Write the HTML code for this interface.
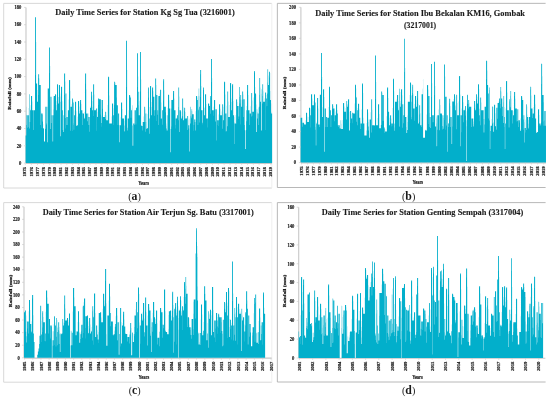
<!DOCTYPE html>
<html lang="en"><head><meta charset="utf-8"><title>Daily Time Series</title>
<style>html,body{margin:0;padding:0;background:#fff}svg{display:block}text{font-family:'Liberation Serif', 'DejaVu Serif', serif}</style></head><body>
<svg width="550" height="401" viewBox="0 0 550 401">
<rect width="550" height="401" fill="#fff"/>
<path d="M271.80 3.40 H3.70 V188.00 H271.80" fill="none" stroke="#d4d4d4" stroke-width="0.9"/>
<path d="M271.80 3.40 V188.00" fill="none" stroke="#ebebeb" stroke-width="0.8"/>
<path d="M26.00 7.40 V163.10 M26.00 163.40 H272.00" stroke="#c8c8c8" stroke-width="1.1" fill="none"/>
<path d="M25.60 163.10V135.4H26.225V106.8H26.35V125H26.6V114.8H26.725V115.2H27.35V127.7H27.6V115.2H28.725V127.1H28.85V107.9H28.975V128.5H29.35V94.3H29.85V122.1H30.1V109.2H30.225V110.2H30.85V105.2H30.975V96.3H31.1V96H32.1V101.6H32.225V110.2H33.1V129.9H33.35V110.2H34.975V75.3H35.1V17.2H35.975V42H36.1V83.4H37.1V90.1H37.225V101.6H37.35V101.8H37.975V95.2H38.1V78H38.225V74.2H39.1V78.6H39.225V85.1H40.725V125H40.975V111.4H41.1V113.5H41.6V127.9H41.725V113.5H42.225V121.6H42.475V113.5H42.85V114.9H42.975V124.1H43.1V128.2H43.6V128.5H43.975V141.5H44.975V128.9H45.225V128.5H45.35V106.8H45.975V125H46.1V106.8H46.475V123.5H46.725V106.8H47.225V142.3H47.725V88.4H48.975V73.1H49.1V47.4H49.975V66H50.1V96.8H50.35V129.1H50.725V96.8H51.475V123H51.725V115.2H52.6V141.5H53.1V115.2H53.475V109.4H53.6V97.4H53.725V96H54.975V95H55.1V94.3H55.975V95.1H56.1V105H56.225V110.2H56.85V101.1H56.975V84.9H57.1V84.2H57.975V84.8H58.1V96.9H58.225V103.5H58.85V97H58.975V85.5H59.1V85.1H59.975V93.6H60.1V101.8H60.35V136.3H60.85V96.5H60.975V87.1H61.1V86.8H62.1V101.2H62.225V110.2H62.85V129.9H63.1V132H63.6V115.2H63.975V95.2H64.1V73.4H65.1V81.4H65.225V93.4H65.6V118H65.85V128.5H65.975V93.4H66.35V125H66.6V116.9H67.6V125H67.85V110.2H68.85V99.6H68.975V80.8H69.1V80.1H70.1V90.8H70.225V106.8H70.475V130.8H70.725V106.8H71.85V103.9H71.975V98.7H72.1V98.5H72.475V131H72.6V98.5H72.975V100.1H73.1V102.6H73.6V123.2H73.725V125H73.85V129.7H74.1V115.2H74.85V110.5H74.975V102.1H75.1V101.8H76.1V111.2H76.225V125.2H76.475V125.9H77.1V125.2H77.85V116.7H77.975V101.6H78.1V101H79.1V106.5H79.225V113.5H79.85V110.9H79.975V102.5H80.1V100.1H81.1V104.1H81.225V110.2H82.35V125H82.6V113H82.725V113.5H83.975V116.7H84.1V118.5H84.85V112H84.975V83.8H85.1V73.4H86.1V89.4H86.225V113.5H86.975V121.2H87.35V113.5H88.225V125H88.475V116.8H88.6V116.9H89.6V131.7H89.85V125H89.975V108.2H90.1V107.7H90.85V106.3H90.975V96.4H91.1V91.8H91.975V95.3H92.1V106.8H92.225V110.2H92.85V101.1H92.975V84.9H93.1V84.2H93.6V116.1H93.725V84.2H94.1V94.6H94.225V110.2H95.85V109.6H95.975V108.5H96.725V130.7H96.85V108.5H97.1V111.8H97.225V116.9H97.85V116.6H97.975V105.1H98.1V98.5H99.1V98.8H99.225V99.3H100.85V114.4H100.975V126.7H101.1V100.1H101.35V123H101.725V116.6H101.85V100.1H102.85V108.8H102.975V116.9H104.85V115.1H104.975V112H105.1V111.8H105.475V118.9H105.725V111.8H106.1V115.2H106.225V120.2H106.975V120.7H107.1V120.2H107.85V105H107.975V77.8H108.1V76.7H109.1V95.5H109.225V123.5H111.85V116.5H111.975V104H112.1V103.5H113.1V108.2H113.225V115.2H113.725V125.1H113.85V115.2H113.975V105.2H114.1V84.3H114.225V81.7H115.1V83.1H115.225V85.1H116.725V97.4H116.85V105.2H117.85V125H118.1V113.5H119.1V125H119.225V142.3H119.725V125.2H120.85V117.3H120.975V103.2H121.1V102.6H122.1V109H122.225V118.5H123.975V125.7H124.1V125.3H124.225V131.4H124.6V131H124.725V120.8H124.85V115.2H125.975V87.3H126.1V40.7H126.975V69.9H127.1V130.6H127.475V118.5H127.6V127.7H127.85V118.5H128.85V110.3H128.975V95.7H129.1V95.1H130.1V96.1H130.225V97.6H130.85V117.7H131.1V110.2H131.85V108.4H131.975V125.6H132.35V105.2H132.6V145.8H133.225V123.5H134.35V125H134.6V110.2H135.85V124.4H136.1V107.7H136.975V87.3H137.1V53.3H137.975V76.5H138.1V115.2H138.35V105.2H138.475V91.8H139.1V101.1H139.225V115.2H139.975V91.5H140.1V51.9H140.975V79.4H141.1V125.2H141.475V125.9H141.975V130.6H142.225V125.9H142.725V121.9H143.85V116.6H143.975V107.2H144.1V106.8H144.35V121.9H144.6V106.8H145.1V109.5H145.225V113.5H145.35V131.8H145.6V113.5H145.85V121.9H146.1V113.5H146.35V128.8H146.975V128.3H147.85V114H147.975V88.6H148.1V87.6H148.85V97.4H148.975V133.7H149.35V118.5H149.85V107.1H149.975V86.7H150.1V85.9H151.1V101.9H151.225V115.2H151.85V107H151.975V89.8H152.1V87.6H153.1V91.3H153.225V96.8H154.35V115.7H154.6V110.2H155.1V93.9H155.225V78.4H156.1V85.1H156.225V95.1H156.725V121H156.85V95.1H157.35V114.7H157.6V110.2H158.1V125H158.35V96.5H158.475V96H159.85V93.8H159.975V89.9H160.1V118.8H160.225V89.8H161.1V102.6H161.225V118.5H161.975V124.8H162.225V110.2H162.975V100.6H163.1V81.3H163.225V79.2H164.1V90.3H164.225V106.8H165.85V112.2H165.975V125.8H166.1V128.6H166.475V123.6H166.6V115.2H166.725V130.5H167.475V115.2H167.85V108H167.975V95.3H168.1V94.8H169.1V100.3H169.225V108.5H170.225V152.3H170.725V129.1H171.1V126.6H171.225V108.5H171.35V100.1H172.85V99.4H172.975V93.6H173.1V90.9H174.1V98.6H174.225V110.2H175.475V125H175.6V128.5H175.725V118.5H176.85V117.4H176.975V115.3H177.1V115.2H177.85V118.2H177.975V120.2H178.225V107H178.35V87.6H179.1V96.6H179.225V110.2H179.475V132.1H179.85V110.2H180.85V111.6H180.975V116.8H181.1V118.5H181.85V111.5H181.975V116.3H182.225V98.5H183.1V107.2H183.225V120.2H183.975V119H184.1V111.1H184.225V107.7H185.1V112H185.225V118.5H186.85V117.7H186.975V116.1H187.1V116H187.725V130.1H187.975V116H188.1V119.7H188.225V125.2H188.85V128.4H189.1V151.4H189.6V125.2H189.85V118.8H189.975V107.3H190.1V106.8H190.475V123.4H190.85V115.9H190.975V116.9H191.1V115.7H191.225V111H191.35V109.3H191.725V118.2H191.975V109.3H192.1V111.3H192.225V114.3H193.725V130.7H193.85V125H194.1V118.9H194.225V119.4H194.85V122H195.225V119.4H195.35V130.5H195.725V119.4H195.85V111.2H195.975V96.5H196.1V96H197.1V97.6H197.225V100.1H197.85V125H198.1V108.5H198.225V110.2H198.475V109.5H198.6V95.9H198.725V88.4H198.975V122.6H199.225V88.4H199.35V95.7H199.475V106.8H199.975V97.3H200.1V74.3H200.225V70H201.1V86.1H201.225V110.2H202.475V122.7H202.85V124.5H202.975V88.2H203.1V87.6H203.85V90H203.975V107.3H204.1V115.2H204.85V107.9H204.975V94.8H205.1V94.3H206.1V104H206.225V118.5H207.85V127.6H207.975V103.9H208.1V103.5H209.1V104.5H209.225V106H209.975V113.7H210.225V97.6H210.35V96H210.975V82.1H211.1V59.1H211.975V78.3H212.1V110.2H213.1V115.8H213.225V110.2H213.85V106.7H213.975V100.4H214.1V100.1H215.1V121.6H215.475V109.3H216.725V140.6H216.975V125H217.1V120.2H218.475V125.9H218.6V120.2H218.85V114.6H218.975V104.7H219.1V104.3H220.1V108.7H220.225V115.2H221.85V111.4H221.975V104.6H222.1V104.3H222.35V128.7H222.6V104.3H222.975V104.6H223.1V114.6H223.225V120.2H223.85V106.7H223.975V82.7H224.1V81.7H225.1V94.4H225.225V113.5H225.85V131.4H225.975V131.3H226.475V113.5H226.85V105.8H226.975V126.3H227.35V91.4H228.1V101.6H228.225V116.9H229.85V105H229.975V83.9H230.1V83.1H231.1V98.4H231.225V110.2H231.85V102H231.975V85.8H232.1V84.2H233.1V101.1H233.225V115.2H234.1V117.1H234.225V122.3H234.35V123.5H234.725V144.1H234.975V123.5H235.85V115.1H235.975V99.9H236.1V99.3H236.725V123.7H236.85V99.3H237.1V102H237.225V106H238.35V118.9H238.475V106H238.725V116.6H239.1V87.1H239.725V97H239.85V103.5H240.1V99.5H240.225V95.1H240.35V124.6H240.475V95.1H241.1V99.8H241.225V106.8H242.1V99.7H242.225V91.4H243.1V94.6H243.225V99.3H243.6V117H243.85V99.3H244.6V125H244.85V130.2H245.1V148.9H245.725V130.2H246.1V110.2H246.225V121.2H246.475V110.2H246.85V106H246.975V90.4H247.1V85.1H248.1V95.1H248.225V110.2H249.475V125H249.725V113.5H250.85V106.3H250.975V93.5H251.1V92.9H251.6V116.4H251.85V92.9H252.1V100.5H252.225V111.8H252.85V115.8H252.975V111.8H253.85V97.5H253.975V71.9H254.1V70.9H254.85V72.6H254.975V86.7H255.1V93.4H255.975V94.6H256.1V104.5H256.225V109.3H256.35V132.1H256.975V109.3H257.1V118.5H257.475V109.5H257.6V112.1H257.725V113.5H258.475V125H258.725V107.7H258.85V106.8H259.225V94.9H259.35V78.1H260.1V87.6H260.225V101.8H260.85V101.5H260.975V93.7H261.1V89.3H261.35V130.5H261.975V103.5H262.225V96.1H262.35V84.2H263.1V91.3H263.225V101.8H264.85V98.6H264.975V92.8H265.1V92.6H265.725V129.9H265.85V92.6H266.1V94.9H266.225V98.5H266.85V106.2H267.1V93.4H267.35V82.4H267.475V69.2H268.1V75.6H268.225V85.1H268.975V77.5H269.1V71.7H269.975V73.1H270.1V90.9H270.225V100.1H270.975V103.4H271.1V111.7H271.225V113.5H272.10 V163.10 Z" fill="#02AFCB"/>
<text x="21.30" y="164.85" font-size="5.30" text-anchor="end" font-weight="bold" fill="#1a1a1a" textLength="2.30" lengthAdjust="spacingAndGlyphs" stroke="#1a1a1a" stroke-width="0.18">0</text>
<text x="21.30" y="147.55" font-size="5.30" text-anchor="end" font-weight="bold" fill="#1a1a1a" textLength="4.60" lengthAdjust="spacingAndGlyphs" stroke="#1a1a1a" stroke-width="0.18">20</text>
<text x="21.30" y="130.25" font-size="5.30" text-anchor="end" font-weight="bold" fill="#1a1a1a" textLength="4.60" lengthAdjust="spacingAndGlyphs" stroke="#1a1a1a" stroke-width="0.18">40</text>
<text x="21.30" y="112.95" font-size="5.30" text-anchor="end" font-weight="bold" fill="#1a1a1a" textLength="4.60" lengthAdjust="spacingAndGlyphs" stroke="#1a1a1a" stroke-width="0.18">60</text>
<text x="21.30" y="95.65" font-size="5.30" text-anchor="end" font-weight="bold" fill="#1a1a1a" textLength="4.60" lengthAdjust="spacingAndGlyphs" stroke="#1a1a1a" stroke-width="0.18">80</text>
<text x="21.30" y="78.35" font-size="5.30" text-anchor="end" font-weight="bold" fill="#1a1a1a" textLength="6.90" lengthAdjust="spacingAndGlyphs" stroke="#1a1a1a" stroke-width="0.18">100</text>
<text x="21.30" y="61.05" font-size="5.30" text-anchor="end" font-weight="bold" fill="#1a1a1a" textLength="6.90" lengthAdjust="spacingAndGlyphs" stroke="#1a1a1a" stroke-width="0.18">120</text>
<text x="21.30" y="43.75" font-size="5.30" text-anchor="end" font-weight="bold" fill="#1a1a1a" textLength="6.90" lengthAdjust="spacingAndGlyphs" stroke="#1a1a1a" stroke-width="0.18">140</text>
<text x="21.30" y="26.45" font-size="5.30" text-anchor="end" font-weight="bold" fill="#1a1a1a" textLength="6.90" lengthAdjust="spacingAndGlyphs" stroke="#1a1a1a" stroke-width="0.18">160</text>
<text x="21.30" y="9.15" font-size="5.30" text-anchor="end" font-weight="bold" fill="#1a1a1a" textLength="6.90" lengthAdjust="spacingAndGlyphs" stroke="#1a1a1a" stroke-width="0.18">180</text>
<path d="M26.00 163.10 h-2.0M26.00 145.80 h-2.0M26.00 128.50 h-2.0M26.00 111.20 h-2.0M26.00 93.90 h-2.0M26.00 76.60 h-2.0M26.00 59.30 h-2.0M26.00 42.00 h-2.0M26.00 24.70 h-2.0M26.00 7.40 h-2.0" stroke="#c8c8c8" stroke-width="0.6" fill="none"/>
<text x="26.46" y="167.10" font-size="3.50" text-anchor="end" font-weight="bold" fill="#1a1a1a" textLength="9.40" lengthAdjust="spacingAndGlyphs" transform="rotate(-90 26.46 167.10)" stroke="#1a1a1a" stroke-width="0.18">1975</text>
<text x="32.55" y="167.10" font-size="3.50" text-anchor="end" font-weight="bold" fill="#1a1a1a" textLength="9.40" lengthAdjust="spacingAndGlyphs" transform="rotate(-90 32.55 167.10)" stroke="#1a1a1a" stroke-width="0.18">1976</text>
<text x="38.66" y="167.10" font-size="3.50" text-anchor="end" font-weight="bold" fill="#1a1a1a" textLength="9.40" lengthAdjust="spacingAndGlyphs" transform="rotate(-90 38.66 167.10)" stroke="#1a1a1a" stroke-width="0.18">1977</text>
<text x="44.76" y="167.10" font-size="3.50" text-anchor="end" font-weight="bold" fill="#1a1a1a" textLength="9.40" lengthAdjust="spacingAndGlyphs" transform="rotate(-90 44.76 167.10)" stroke="#1a1a1a" stroke-width="0.18">1978</text>
<text x="50.56" y="167.10" font-size="3.50" text-anchor="end" font-weight="bold" fill="#1a1a1a" textLength="9.40" lengthAdjust="spacingAndGlyphs" transform="rotate(-90 50.56 167.10)" stroke="#1a1a1a" stroke-width="0.18">1979</text>
<text x="56.37" y="167.10" font-size="3.50" text-anchor="end" font-weight="bold" fill="#1a1a1a" textLength="9.40" lengthAdjust="spacingAndGlyphs" transform="rotate(-90 56.37 167.10)" stroke="#1a1a1a" stroke-width="0.18">1980</text>
<text x="62.18" y="167.10" font-size="3.50" text-anchor="end" font-weight="bold" fill="#1a1a1a" textLength="9.40" lengthAdjust="spacingAndGlyphs" transform="rotate(-90 62.18 167.10)" stroke="#1a1a1a" stroke-width="0.18">1981</text>
<text x="67.99" y="167.10" font-size="3.50" text-anchor="end" font-weight="bold" fill="#1a1a1a" textLength="9.40" lengthAdjust="spacingAndGlyphs" transform="rotate(-90 67.99 167.10)" stroke="#1a1a1a" stroke-width="0.18">1982</text>
<text x="73.80" y="167.10" font-size="3.50" text-anchor="end" font-weight="bold" fill="#1a1a1a" textLength="9.40" lengthAdjust="spacingAndGlyphs" transform="rotate(-90 73.80 167.10)" stroke="#1a1a1a" stroke-width="0.18">1983</text>
<text x="79.61" y="167.10" font-size="3.50" text-anchor="end" font-weight="bold" fill="#1a1a1a" textLength="9.40" lengthAdjust="spacingAndGlyphs" transform="rotate(-90 79.61 167.10)" stroke="#1a1a1a" stroke-width="0.18">1984</text>
<text x="85.42" y="167.10" font-size="3.50" text-anchor="end" font-weight="bold" fill="#1a1a1a" textLength="9.40" lengthAdjust="spacingAndGlyphs" transform="rotate(-90 85.42 167.10)" stroke="#1a1a1a" stroke-width="0.18">1985</text>
<text x="91.23" y="167.10" font-size="3.50" text-anchor="end" font-weight="bold" fill="#1a1a1a" textLength="9.40" lengthAdjust="spacingAndGlyphs" transform="rotate(-90 91.23 167.10)" stroke="#1a1a1a" stroke-width="0.18">1987</text>
<text x="97.04" y="167.10" font-size="3.50" text-anchor="end" font-weight="bold" fill="#1a1a1a" textLength="9.40" lengthAdjust="spacingAndGlyphs" transform="rotate(-90 97.04 167.10)" stroke="#1a1a1a" stroke-width="0.18">1988</text>
<text x="102.85" y="167.10" font-size="3.50" text-anchor="end" font-weight="bold" fill="#1a1a1a" textLength="9.40" lengthAdjust="spacingAndGlyphs" transform="rotate(-90 102.85 167.10)" stroke="#1a1a1a" stroke-width="0.18">1989</text>
<text x="108.66" y="167.10" font-size="3.50" text-anchor="end" font-weight="bold" fill="#1a1a1a" textLength="9.40" lengthAdjust="spacingAndGlyphs" transform="rotate(-90 108.66 167.10)" stroke="#1a1a1a" stroke-width="0.18">1990</text>
<text x="114.49" y="167.10" font-size="3.50" text-anchor="end" font-weight="bold" fill="#1a1a1a" textLength="9.40" lengthAdjust="spacingAndGlyphs" transform="rotate(-90 114.49 167.10)" stroke="#1a1a1a" stroke-width="0.18">1991</text>
<text x="120.32" y="167.10" font-size="3.50" text-anchor="end" font-weight="bold" fill="#1a1a1a" textLength="9.40" lengthAdjust="spacingAndGlyphs" transform="rotate(-90 120.32 167.10)" stroke="#1a1a1a" stroke-width="0.18">1992</text>
<text x="126.15" y="167.10" font-size="3.50" text-anchor="end" font-weight="bold" fill="#1a1a1a" textLength="9.40" lengthAdjust="spacingAndGlyphs" transform="rotate(-90 126.15 167.10)" stroke="#1a1a1a" stroke-width="0.18">1993</text>
<text x="131.98" y="167.10" font-size="3.50" text-anchor="end" font-weight="bold" fill="#1a1a1a" textLength="9.40" lengthAdjust="spacingAndGlyphs" transform="rotate(-90 131.98 167.10)" stroke="#1a1a1a" stroke-width="0.18">1994</text>
<text x="137.82" y="167.10" font-size="3.50" text-anchor="end" font-weight="bold" fill="#1a1a1a" textLength="9.40" lengthAdjust="spacingAndGlyphs" transform="rotate(-90 137.82 167.10)" stroke="#1a1a1a" stroke-width="0.18">1995</text>
<text x="143.65" y="167.10" font-size="3.50" text-anchor="end" font-weight="bold" fill="#1a1a1a" textLength="9.40" lengthAdjust="spacingAndGlyphs" transform="rotate(-90 143.65 167.10)" stroke="#1a1a1a" stroke-width="0.18">1996</text>
<text x="149.48" y="167.10" font-size="3.50" text-anchor="end" font-weight="bold" fill="#1a1a1a" textLength="9.40" lengthAdjust="spacingAndGlyphs" transform="rotate(-90 149.48 167.10)" stroke="#1a1a1a" stroke-width="0.18">1997</text>
<text x="155.31" y="167.10" font-size="3.50" text-anchor="end" font-weight="bold" fill="#1a1a1a" textLength="9.40" lengthAdjust="spacingAndGlyphs" transform="rotate(-90 155.31 167.10)" stroke="#1a1a1a" stroke-width="0.18">1998</text>
<text x="161.14" y="167.10" font-size="3.50" text-anchor="end" font-weight="bold" fill="#1a1a1a" textLength="9.40" lengthAdjust="spacingAndGlyphs" transform="rotate(-90 161.14 167.10)" stroke="#1a1a1a" stroke-width="0.18">1999</text>
<text x="166.98" y="167.10" font-size="3.50" text-anchor="end" font-weight="bold" fill="#1a1a1a" textLength="9.40" lengthAdjust="spacingAndGlyphs" transform="rotate(-90 166.98 167.10)" stroke="#1a1a1a" stroke-width="0.18">2000</text>
<text x="172.81" y="167.10" font-size="3.50" text-anchor="end" font-weight="bold" fill="#1a1a1a" textLength="9.40" lengthAdjust="spacingAndGlyphs" transform="rotate(-90 172.81 167.10)" stroke="#1a1a1a" stroke-width="0.18">2001</text>
<text x="178.64" y="167.10" font-size="3.50" text-anchor="end" font-weight="bold" fill="#1a1a1a" textLength="9.40" lengthAdjust="spacingAndGlyphs" transform="rotate(-90 178.64 167.10)" stroke="#1a1a1a" stroke-width="0.18">2002</text>
<text x="184.47" y="167.10" font-size="3.50" text-anchor="end" font-weight="bold" fill="#1a1a1a" textLength="9.40" lengthAdjust="spacingAndGlyphs" transform="rotate(-90 184.47 167.10)" stroke="#1a1a1a" stroke-width="0.18">2003</text>
<text x="190.31" y="167.10" font-size="3.50" text-anchor="end" font-weight="bold" fill="#1a1a1a" textLength="9.40" lengthAdjust="spacingAndGlyphs" transform="rotate(-90 190.31 167.10)" stroke="#1a1a1a" stroke-width="0.18">2005</text>
<text x="196.14" y="167.10" font-size="3.50" text-anchor="end" font-weight="bold" fill="#1a1a1a" textLength="9.40" lengthAdjust="spacingAndGlyphs" transform="rotate(-90 196.14 167.10)" stroke="#1a1a1a" stroke-width="0.18">2006</text>
<text x="201.97" y="167.10" font-size="3.50" text-anchor="end" font-weight="bold" fill="#1a1a1a" textLength="9.40" lengthAdjust="spacingAndGlyphs" transform="rotate(-90 201.97 167.10)" stroke="#1a1a1a" stroke-width="0.18">2007</text>
<text x="207.80" y="167.10" font-size="3.50" text-anchor="end" font-weight="bold" fill="#1a1a1a" textLength="9.40" lengthAdjust="spacingAndGlyphs" transform="rotate(-90 207.80 167.10)" stroke="#1a1a1a" stroke-width="0.18">2008</text>
<text x="213.63" y="167.10" font-size="3.50" text-anchor="end" font-weight="bold" fill="#1a1a1a" textLength="9.40" lengthAdjust="spacingAndGlyphs" transform="rotate(-90 213.63 167.10)" stroke="#1a1a1a" stroke-width="0.18">2009</text>
<text x="219.47" y="167.10" font-size="3.50" text-anchor="end" font-weight="bold" fill="#1a1a1a" textLength="9.40" lengthAdjust="spacingAndGlyphs" transform="rotate(-90 219.47 167.10)" stroke="#1a1a1a" stroke-width="0.18">2010</text>
<text x="225.30" y="167.10" font-size="3.50" text-anchor="end" font-weight="bold" fill="#1a1a1a" textLength="9.40" lengthAdjust="spacingAndGlyphs" transform="rotate(-90 225.30 167.10)" stroke="#1a1a1a" stroke-width="0.18">2011</text>
<text x="231.13" y="167.10" font-size="3.50" text-anchor="end" font-weight="bold" fill="#1a1a1a" textLength="9.40" lengthAdjust="spacingAndGlyphs" transform="rotate(-90 231.13 167.10)" stroke="#1a1a1a" stroke-width="0.18">2012</text>
<text x="236.96" y="167.10" font-size="3.50" text-anchor="end" font-weight="bold" fill="#1a1a1a" textLength="9.40" lengthAdjust="spacingAndGlyphs" transform="rotate(-90 236.96 167.10)" stroke="#1a1a1a" stroke-width="0.18">2013</text>
<text x="242.79" y="167.10" font-size="3.50" text-anchor="end" font-weight="bold" fill="#1a1a1a" textLength="9.40" lengthAdjust="spacingAndGlyphs" transform="rotate(-90 242.79 167.10)" stroke="#1a1a1a" stroke-width="0.18">2014</text>
<text x="248.63" y="167.10" font-size="3.50" text-anchor="end" font-weight="bold" fill="#1a1a1a" textLength="9.40" lengthAdjust="spacingAndGlyphs" transform="rotate(-90 248.63 167.10)" stroke="#1a1a1a" stroke-width="0.18">2015</text>
<text x="254.46" y="167.10" font-size="3.50" text-anchor="end" font-weight="bold" fill="#1a1a1a" textLength="9.40" lengthAdjust="spacingAndGlyphs" transform="rotate(-90 254.46 167.10)" stroke="#1a1a1a" stroke-width="0.18">2016</text>
<text x="260.29" y="167.10" font-size="3.50" text-anchor="end" font-weight="bold" fill="#1a1a1a" textLength="9.40" lengthAdjust="spacingAndGlyphs" transform="rotate(-90 260.29 167.10)" stroke="#1a1a1a" stroke-width="0.18">2017</text>
<text x="266.12" y="167.10" font-size="3.50" text-anchor="end" font-weight="bold" fill="#1a1a1a" textLength="9.40" lengthAdjust="spacingAndGlyphs" transform="rotate(-90 266.12 167.10)" stroke="#1a1a1a" stroke-width="0.18">2018</text>
<text x="271.95" y="167.10" font-size="3.50" text-anchor="end" font-weight="bold" fill="#1a1a1a" textLength="9.40" lengthAdjust="spacingAndGlyphs" transform="rotate(-90 271.95 167.10)" stroke="#1a1a1a" stroke-width="0.18">2019</text>
<path d="M25.30 163.10 v2M31.40 163.10 v2M37.50 163.10 v2M43.60 163.10 v2M49.41 163.10 v2M55.22 163.10 v2M61.03 163.10 v2M66.84 163.10 v2M72.65 163.10 v2M78.45 163.10 v2M84.26 163.10 v2M90.07 163.10 v2M95.88 163.10 v2M101.69 163.10 v2M107.50 163.10 v2M113.33 163.10 v2M119.16 163.10 v2M125.00 163.10 v2M130.83 163.10 v2M136.66 163.10 v2M142.49 163.10 v2M148.32 163.10 v2M154.16 163.10 v2M159.99 163.10 v2M165.82 163.10 v2M171.65 163.10 v2M177.49 163.10 v2M183.32 163.10 v2M189.15 163.10 v2M194.98 163.10 v2M200.81 163.10 v2M206.65 163.10 v2M212.48 163.10 v2M218.31 163.10 v2M224.14 163.10 v2M229.98 163.10 v2M235.81 163.10 v2M241.64 163.10 v2M247.47 163.10 v2M253.30 163.10 v2M259.14 163.10 v2M264.97 163.10 v2M270.80 163.10 v2" stroke="#c8c8c8" stroke-width="0.5" fill="none"/>
<text x="11.00" y="93.50" font-size="5.00" text-anchor="middle" font-weight="bold" fill="#1a1a1a" textLength="32.50" lengthAdjust="spacingAndGlyphs" transform="rotate(-90 11.00 93.50)" stroke="#1a1a1a" stroke-width="0.18">Rainfall (mm)</text>
<text x="143.60" y="184.50" font-size="5.20" text-anchor="middle" font-weight="bold" fill="#1a1a1a" textLength="10.60" lengthAdjust="spacingAndGlyphs" stroke="#1a1a1a" stroke-width="0.18">Years</text>
<text x="145.00" y="15.30" font-size="9.20" text-anchor="middle" font-weight="bold" fill="#1a1a1a" textLength="179.40" lengthAdjust="spacingAndGlyphs" stroke="#1a1a1a" stroke-width="0.12">Daily Time Series for Station Kg Sg Tua (3216001)</text>
<path d="M545.60 3.35 H277.35 V187.50 H545.60" fill="none" stroke="#b0b0b0" stroke-width="0.9"/>
<path d="M300.90 7.30 V162.60 M300.90 162.90 H546.00" stroke="#c8c8c8" stroke-width="1.1" fill="none"/>
<path d="M300.60 162.60V117.7H302.225V126.8H302.475V122.7H303.975V123.2H304.1V124.2H304.225V124.4H305.85V120.3H305.975V113H306.1V112.7H307.1V116.4H307.225V121.9H308.85V116.9H308.975V108H309.1V107.7H309.975V109.6H310.1V127.4H310.225V115.2H310.85V107.9H310.975V94.8H311.1V94.3H312.1V98.6H312.225V105.2H313.85V101.3H313.975V94.6H314.1V94.3H314.85V95H314.975V129.7H315.225V102.6H315.725V126.9H315.85V145.5H316.225V123.5H316.85V121.7H316.975V105.8H317.1V98.1H318.1V108.6H318.225V124.4H319.6V126.9H319.85V94.8H320.975V79.2H321.1V53.1H321.975V77H322.1V116.9H322.85V107.2H322.975V90H323.1V89.3H324.1V97H324.225V108.5H324.475V151.7H324.975V108.5H325.85V126.9H326.1V116.9H327.1V126.9H327.35V117.7H328.85V106.9H328.975V87.5H329.1V86.8H329.975V99.9H330.1V110.2H330.85V126.9H331.1V115.2H331.975V109.2H332.1V104.3H333.1V106H333.225V108.5H334.475V121.3H334.725V115.2H335.85V111.4H335.975V104.6H336.1V104.3H337.1V110H337.225V113.5H337.475V125.3H337.6V113.5H337.975V126.9H338.225V124.9H338.35V125.2H339.725V128.4H340.725V120.2H341.1V123.7H341.225V129H342.85V120H342.975V103.8H343.1V103.1H344.1V106.6H344.225V111.8H345.85V108H345.975V101.2H346.1V101H346.225V119.4H346.6V101H347.1V104H347.225V106.8H347.85V104.8H347.975V100.1H348.1V99.3H349.1V111.8H349.225V130.4H349.975V123.3H350.1V111.1H350.225V111H351.1V114H351.225V118.5H352.1V123.2H352.225V112.7H353.1V113H353.225V113.5H354.85V103.4H354.975V85.5H355.1V84.7H355.975V88.6H356.1V96.7H356.225V97.6H356.725V121.8H356.975V110.2H357.225V125.3H357.475V110.2H357.85V107.9H357.975V104H358.1V103.8H359.1V109.4H359.225V117.7H360.225V121.2H360.35V123.5H360.6V129H360.85V123.5H361.85V109.5H361.975V84.4H362.1V83.4H362.975V92.7H363.1V117.8H363.225V123.5H364.35V135.4H366.6V130.5H366.85V123.1H366.975V109.9H367.1V109.3H367.975V112.4H368.1V130.6H368.35V126.4H368.725V121.9H368.85V119.4H369.35V137.8H369.975V119.4H370.85V112.3H370.975V99.8H371.1V99.3H371.225V132.4H371.475V99.3H372.1V109.7H372.225V125.2H374.225V125.3H374.35V125.4H374.975V99.2H375.1V55.6H375.975V81.7H376.1V125.2H377.85V117.9H377.975V104.8H378.1V104.3H379.1V113.9H379.225V128.2H380.85V125.1H381.225V91.4H382.1V92.9H382.225V95.1H382.85V120.8H383.225V95.1H383.975V132.7H384.225V129.1H384.35V127.5H384.975V128.7H385.1V131.3H385.225V131.6H386.85V116.2H386.975V88.7H387.1V87.6H388.1V97.9H388.225V111.8H389.1V117.8H389.225V125.2H389.975V122.3H390.1V116.1H390.225V115.2H391.1V118.5H391.225V126.6H391.35V123.5H391.975V125.8H392.1V123.5H392.85V107.9H392.975V79.8H393.1V78.7H393.975V91.3H394.1V123.7H394.225V130.7H394.6V127.5H394.725V123.4H394.975V101.8H396.85V99.5H396.975V95.3H397.1V95.1H398.1V101.1H398.225V110.2H398.85V108.6H398.975V95.2H399.1V88.8H399.475V126.6H399.725V126.8H399.85V88.8H399.975V92H400.1V103.3H400.225V106.8H400.85V100.7H400.975V89.7H401.1V89.3H402.1V95.3H402.225V104.3H402.6V127.7H402.85V104.3H403.225V123.3H403.475V115.2H404.1V72H404.225V38.8H404.975V68.1H405.1V116.9H406.1V127.1H406.225V116.9H406.475V133.1H407.1V122H407.225V130H407.725V115.4H407.85V101.8H409.85V95.1H409.975V83.1H410.1V82.6H410.975V83.9H411.1V96H411.225V101.8H411.475V119.2H411.725V117.1H411.85V95.1H412.1V93.1H412.225V86.7H412.35V84.7H413.1V94.2H413.225V108.5H413.975V120.8H414.225V108.5H414.85V104.1H414.975V96.3H415.1V96H416.1V100.3H416.225V106.8H416.975V98.6H417.1V90.9H418.1V104H418.225V123.5H418.975V114.4H419.1V105.2H419.225V122.1H419.35V105.2H420.1V113.2H420.225V125.2H421.35V126.9H421.6V94.3H422.85V88.7H422.975V78.8H423.1V137.8H424.975V129.7H425.35V130.2H425.475V130.5H426.85V114.6H426.975V86.2H427.1V85.1H428.1V89.4H428.225V96H428.6V124.1H428.725V96H429.475V126.9H429.725V113H429.85V116.9H430.35V128.1H430.725V116.9H430.975V97H431.1V64H431.975V83.2H432.1V115.2H432.85V122.3H433.225V115.2H433.975V95.2H434.1V61.8H434.975V86.1H435.1V126.5H436.1V123.6H436.225V116.6H436.35V115.2H436.475V118.6H436.6V146.3H437.1V129.8H437.35V115.2H438.85V109.6H438.975V99.7H439.1V130.3H439.475V99.3H440.1V105H440.225V113.5H441.85V114.2H441.975V115.2H442.1V126H442.35V115.2H442.475V129.6H442.725V115.2H443.35V118H443.475V126.4H443.6V128.7H443.975V119.9H444.1V64.5H444.975V76.6H445.1V96.8H445.85V129.7H445.975V96.8H446.6V125.4H446.85V115.2H447.6V151.7H447.975V126.9H448.225V122.9H448.35V123.5H448.975V118.7H449.1V103.2H449.225V98.8H450.1V106H450.225V116.9H450.475V127.1H450.725V116.9H451.6V144H452.1V126.5H452.225V101.5H453.85V99H453.975V94.5H454.1V94.3H454.975V96.4H455.1V106.3H455.225V110.2H455.85V104.8H455.975V95.2H456.1V94.8H456.6V129.2H456.85V94.8H457.1V102.9H457.225V115.2H458.85V101.4H458.975V76.9H459.1V75.9H460.1V94.5H460.225V115.2H460.35V146.3H460.725V115.2H461.725V132.3H461.85V108.5H461.975V96.4H462.1V96H463.1V102.3H463.225V110.2H463.475V122.2H463.725V110.2H464.85V108.7H464.975V106.1H465.1V106H465.725V106.6H465.85V115.5H465.975V126.3H466.1V161H466.6V120.2H466.85V111.3H466.975V95.4H467.1V94.8H467.725V95.1H467.85V103.7H467.975V108.5H468.225V104.1H468.35V100.1H469.1V102.8H469.225V106.8H471.225V126.9H471.475V118.4H471.6V118.5H473.225V121.5H473.35V126.5H473.475V126.6H473.85V124.2H473.975V108.2H474.1V101H475.1V104.6H475.225V110.2H475.85V109H475.975V99.1H476.1V94.3H476.85V94.8H476.975V100.6H477.1V103.5H477.85V96.7H477.975V84.7H478.1V84.2H478.975V89.2H479.1V108.6H479.225V121.3H479.35V115.2H479.85V109H479.975V98.1H480.1V97.6H480.475V125.3H480.725V97.6H481.1V102.6H481.225V110.2H483.6V119.1H483.725V132.4H484.225V118.9H484.35V106.8H484.725V124.6H484.975V106.8H485.975V79.3H486.1V60.8H487.1V70.5H487.225V85.1H488.1V118.6H488.35V93.4H488.975V90.1H489.1V87.6H489.225V120.5H489.475V87.6H489.85V149H490.225V125.8H490.475V131.1H490.85V125.8H491.85V119H491.975V107H492.1V106.5H492.35V123.5H492.6V106.5H492.975V107H493.1V122.8H493.225V131.7H493.85V122.3H493.975V105.5H494.1V104.8H495.1V113.3H495.225V125.9H495.35V126.9H495.475V125.9H495.975V129.9H496.225V107.7H496.35V128.9H496.475V107.7H497.35V118.7H497.6V103.1H498.85V101.5H498.975V98.6H499.1V98.5H499.85V101.8H499.975V108H500.1V108.5H500.225V104.1H500.35V90.8H500.475V87.1H501.1V91.6H501.225V98.5H502.225V115.9H502.475V106.8H502.975V102.2H503.1V123H503.475V96H504.1V107.1H504.225V116.9H504.725V126.9H504.85V149H505.225V123.5H505.85V108.6H505.975V82H506.1V80.9H507.1V92.6H507.225V110.2H508.85V127.5H509.225V99.3H509.85V101.4H509.975V107.1H510.1V108.5H510.225V106.7H510.35V95.7H510.475V90.9H511.1V98.6H511.225V110.2H512.725V123.6H512.975V115.2H513.85V110.7H513.975V96.3H514.1V92.1H515.1V98.7H515.225V108.5H516.85V121.4H517.1V121.1H517.35V109.3H518.225V126.9H518.475V120.2H519.85V122.4H519.975V129H520.1V130.7H520.85V118.5H520.975V96.8H521.1V96H522.1V97.6H522.225V100.1H523.1V129.8H523.225V100.1H523.35V119.5H523.6V115.2H523.975V142.4H524.35V115.2H524.6V122.2H524.725V127.9H525.725V132.4H525.85V119.7H525.975V104.9H526.1V104.3H526.475V130H526.725V104.3H526.975V106.6H527.1V114.4H527.225V116.9H528.225V120.1H528.35V127.4H528.475V128.5H528.85V123.7H528.975V116.9H530.1V108.4H530.225V89.6H530.35V86.8H531.1V95.5H531.225V108.5H532.475V118H532.725V113.5H533.85V107H533.975V95.3H534.1V94.8H535.1V104.3H535.225V118.5H536.1V133.1H536.725V131.6H536.85V131.9H537.85V132.8H537.975V109.9H538.1V109.3H539.1V115H539.225V123.5H539.35V125.4H539.475V123.5H540.475V124.5H540.6V125.5H540.975V122.6H541.1V83.9H541.225V63.7H542.1V76.3H542.225V95.1H543.6V102.3H543.725V121.5H543.85V125.8H544.225V120.5H544.35V111.2H544.475V111H545.1V125.8H545.475V111H545.98 V162.60 Z" fill="#02AFCB"/>
<text x="296.00" y="164.35" font-size="5.30" text-anchor="end" font-weight="bold" fill="#1a1a1a" textLength="2.30" lengthAdjust="spacingAndGlyphs" stroke="#1a1a1a" stroke-width="0.18">0</text>
<text x="296.00" y="148.82" font-size="5.30" text-anchor="end" font-weight="bold" fill="#1a1a1a" textLength="4.60" lengthAdjust="spacingAndGlyphs" stroke="#1a1a1a" stroke-width="0.18">20</text>
<text x="296.00" y="133.29" font-size="5.30" text-anchor="end" font-weight="bold" fill="#1a1a1a" textLength="4.60" lengthAdjust="spacingAndGlyphs" stroke="#1a1a1a" stroke-width="0.18">40</text>
<text x="296.00" y="117.76" font-size="5.30" text-anchor="end" font-weight="bold" fill="#1a1a1a" textLength="4.60" lengthAdjust="spacingAndGlyphs" stroke="#1a1a1a" stroke-width="0.18">60</text>
<text x="296.00" y="102.23" font-size="5.30" text-anchor="end" font-weight="bold" fill="#1a1a1a" textLength="4.60" lengthAdjust="spacingAndGlyphs" stroke="#1a1a1a" stroke-width="0.18">80</text>
<text x="296.00" y="86.70" font-size="5.30" text-anchor="end" font-weight="bold" fill="#1a1a1a" textLength="6.90" lengthAdjust="spacingAndGlyphs" stroke="#1a1a1a" stroke-width="0.18">100</text>
<text x="296.00" y="71.17" font-size="5.30" text-anchor="end" font-weight="bold" fill="#1a1a1a" textLength="6.90" lengthAdjust="spacingAndGlyphs" stroke="#1a1a1a" stroke-width="0.18">120</text>
<text x="296.00" y="55.64" font-size="5.30" text-anchor="end" font-weight="bold" fill="#1a1a1a" textLength="6.90" lengthAdjust="spacingAndGlyphs" stroke="#1a1a1a" stroke-width="0.18">140</text>
<text x="296.00" y="40.11" font-size="5.30" text-anchor="end" font-weight="bold" fill="#1a1a1a" textLength="6.90" lengthAdjust="spacingAndGlyphs" stroke="#1a1a1a" stroke-width="0.18">160</text>
<text x="296.00" y="24.58" font-size="5.30" text-anchor="end" font-weight="bold" fill="#1a1a1a" textLength="6.90" lengthAdjust="spacingAndGlyphs" stroke="#1a1a1a" stroke-width="0.18">180</text>
<text x="296.00" y="9.05" font-size="5.30" text-anchor="end" font-weight="bold" fill="#1a1a1a" textLength="6.90" lengthAdjust="spacingAndGlyphs" stroke="#1a1a1a" stroke-width="0.18">200</text>
<path d="M300.90 162.60 h-2.0M300.90 147.07 h-2.0M300.90 131.54 h-2.0M300.90 116.01 h-2.0M300.90 100.48 h-2.0M300.90 84.95 h-2.0M300.90 69.42 h-2.0M300.90 53.89 h-2.0M300.90 38.36 h-2.0M300.90 22.83 h-2.0M300.90 7.30 h-2.0" stroke="#c8c8c8" stroke-width="0.6" fill="none"/>
<text x="302.65" y="166.30" font-size="3.50" text-anchor="end" font-weight="bold" fill="#1a1a1a" textLength="9.40" lengthAdjust="spacingAndGlyphs" transform="rotate(-90 302.65 166.30)" stroke="#1a1a1a" stroke-width="0.18">1975</text>
<text x="308.63" y="166.30" font-size="3.50" text-anchor="end" font-weight="bold" fill="#1a1a1a" textLength="9.40" lengthAdjust="spacingAndGlyphs" transform="rotate(-90 308.63 166.30)" stroke="#1a1a1a" stroke-width="0.18">1976</text>
<text x="314.60" y="166.30" font-size="3.50" text-anchor="end" font-weight="bold" fill="#1a1a1a" textLength="9.40" lengthAdjust="spacingAndGlyphs" transform="rotate(-90 314.60 166.30)" stroke="#1a1a1a" stroke-width="0.18">1977</text>
<text x="320.57" y="166.30" font-size="3.50" text-anchor="end" font-weight="bold" fill="#1a1a1a" textLength="9.40" lengthAdjust="spacingAndGlyphs" transform="rotate(-90 320.57 166.30)" stroke="#1a1a1a" stroke-width="0.18">1979</text>
<text x="326.54" y="166.30" font-size="3.50" text-anchor="end" font-weight="bold" fill="#1a1a1a" textLength="9.40" lengthAdjust="spacingAndGlyphs" transform="rotate(-90 326.54 166.30)" stroke="#1a1a1a" stroke-width="0.18">1980</text>
<text x="332.52" y="166.30" font-size="3.50" text-anchor="end" font-weight="bold" fill="#1a1a1a" textLength="9.40" lengthAdjust="spacingAndGlyphs" transform="rotate(-90 332.52 166.30)" stroke="#1a1a1a" stroke-width="0.18">1981</text>
<text x="338.49" y="166.30" font-size="3.50" text-anchor="end" font-weight="bold" fill="#1a1a1a" textLength="9.40" lengthAdjust="spacingAndGlyphs" transform="rotate(-90 338.49 166.30)" stroke="#1a1a1a" stroke-width="0.18">1982</text>
<text x="344.46" y="166.30" font-size="3.50" text-anchor="end" font-weight="bold" fill="#1a1a1a" textLength="9.40" lengthAdjust="spacingAndGlyphs" transform="rotate(-90 344.46 166.30)" stroke="#1a1a1a" stroke-width="0.18">1983</text>
<text x="350.43" y="166.30" font-size="3.50" text-anchor="end" font-weight="bold" fill="#1a1a1a" textLength="9.40" lengthAdjust="spacingAndGlyphs" transform="rotate(-90 350.43 166.30)" stroke="#1a1a1a" stroke-width="0.18">1984</text>
<text x="356.40" y="166.30" font-size="3.50" text-anchor="end" font-weight="bold" fill="#1a1a1a" textLength="9.40" lengthAdjust="spacingAndGlyphs" transform="rotate(-90 356.40 166.30)" stroke="#1a1a1a" stroke-width="0.18">1985</text>
<text x="362.38" y="166.30" font-size="3.50" text-anchor="end" font-weight="bold" fill="#1a1a1a" textLength="9.40" lengthAdjust="spacingAndGlyphs" transform="rotate(-90 362.38 166.30)" stroke="#1a1a1a" stroke-width="0.18">1986</text>
<text x="368.35" y="166.30" font-size="3.50" text-anchor="end" font-weight="bold" fill="#1a1a1a" textLength="9.40" lengthAdjust="spacingAndGlyphs" transform="rotate(-90 368.35 166.30)" stroke="#1a1a1a" stroke-width="0.18">1987</text>
<text x="374.32" y="166.30" font-size="3.50" text-anchor="end" font-weight="bold" fill="#1a1a1a" textLength="9.40" lengthAdjust="spacingAndGlyphs" transform="rotate(-90 374.32 166.30)" stroke="#1a1a1a" stroke-width="0.18">1988</text>
<text x="380.29" y="166.30" font-size="3.50" text-anchor="end" font-weight="bold" fill="#1a1a1a" textLength="9.40" lengthAdjust="spacingAndGlyphs" transform="rotate(-90 380.29 166.30)" stroke="#1a1a1a" stroke-width="0.18">1989</text>
<text x="386.27" y="166.30" font-size="3.50" text-anchor="end" font-weight="bold" fill="#1a1a1a" textLength="9.40" lengthAdjust="spacingAndGlyphs" transform="rotate(-90 386.27 166.30)" stroke="#1a1a1a" stroke-width="0.18">1991</text>
<text x="392.24" y="166.30" font-size="3.50" text-anchor="end" font-weight="bold" fill="#1a1a1a" textLength="9.40" lengthAdjust="spacingAndGlyphs" transform="rotate(-90 392.24 166.30)" stroke="#1a1a1a" stroke-width="0.18">1992</text>
<text x="398.21" y="166.30" font-size="3.50" text-anchor="end" font-weight="bold" fill="#1a1a1a" textLength="9.40" lengthAdjust="spacingAndGlyphs" transform="rotate(-90 398.21 166.30)" stroke="#1a1a1a" stroke-width="0.18">1993</text>
<text x="404.18" y="166.30" font-size="3.50" text-anchor="end" font-weight="bold" fill="#1a1a1a" textLength="9.40" lengthAdjust="spacingAndGlyphs" transform="rotate(-90 404.18 166.30)" stroke="#1a1a1a" stroke-width="0.18">1994</text>
<text x="410.15" y="166.30" font-size="3.50" text-anchor="end" font-weight="bold" fill="#1a1a1a" textLength="9.40" lengthAdjust="spacingAndGlyphs" transform="rotate(-90 410.15 166.30)" stroke="#1a1a1a" stroke-width="0.18">1995</text>
<text x="416.28" y="166.30" font-size="3.50" text-anchor="end" font-weight="bold" fill="#1a1a1a" textLength="9.40" lengthAdjust="spacingAndGlyphs" transform="rotate(-90 416.28 166.30)" stroke="#1a1a1a" stroke-width="0.18">1996</text>
<text x="422.40" y="166.30" font-size="3.50" text-anchor="end" font-weight="bold" fill="#1a1a1a" textLength="9.40" lengthAdjust="spacingAndGlyphs" transform="rotate(-90 422.40 166.30)" stroke="#1a1a1a" stroke-width="0.18">1997</text>
<text x="428.52" y="166.30" font-size="3.50" text-anchor="end" font-weight="bold" fill="#1a1a1a" textLength="9.40" lengthAdjust="spacingAndGlyphs" transform="rotate(-90 428.52 166.30)" stroke="#1a1a1a" stroke-width="0.18">1998</text>
<text x="434.65" y="166.30" font-size="3.50" text-anchor="end" font-weight="bold" fill="#1a1a1a" textLength="9.40" lengthAdjust="spacingAndGlyphs" transform="rotate(-90 434.65 166.30)" stroke="#1a1a1a" stroke-width="0.18">1999</text>
<text x="440.77" y="166.30" font-size="3.50" text-anchor="end" font-weight="bold" fill="#1a1a1a" textLength="9.40" lengthAdjust="spacingAndGlyphs" transform="rotate(-90 440.77 166.30)" stroke="#1a1a1a" stroke-width="0.18">2000</text>
<text x="446.89" y="166.30" font-size="3.50" text-anchor="end" font-weight="bold" fill="#1a1a1a" textLength="9.40" lengthAdjust="spacingAndGlyphs" transform="rotate(-90 446.89 166.30)" stroke="#1a1a1a" stroke-width="0.18">2002</text>
<text x="453.01" y="166.30" font-size="3.50" text-anchor="end" font-weight="bold" fill="#1a1a1a" textLength="9.40" lengthAdjust="spacingAndGlyphs" transform="rotate(-90 453.01 166.30)" stroke="#1a1a1a" stroke-width="0.18">2003</text>
<text x="459.14" y="166.30" font-size="3.50" text-anchor="end" font-weight="bold" fill="#1a1a1a" textLength="9.40" lengthAdjust="spacingAndGlyphs" transform="rotate(-90 459.14 166.30)" stroke="#1a1a1a" stroke-width="0.18">2004</text>
<text x="465.26" y="166.30" font-size="3.50" text-anchor="end" font-weight="bold" fill="#1a1a1a" textLength="9.40" lengthAdjust="spacingAndGlyphs" transform="rotate(-90 465.26 166.30)" stroke="#1a1a1a" stroke-width="0.18">2005</text>
<text x="471.38" y="166.30" font-size="3.50" text-anchor="end" font-weight="bold" fill="#1a1a1a" textLength="9.40" lengthAdjust="spacingAndGlyphs" transform="rotate(-90 471.38 166.30)" stroke="#1a1a1a" stroke-width="0.18">2006</text>
<text x="477.50" y="166.30" font-size="3.50" text-anchor="end" font-weight="bold" fill="#1a1a1a" textLength="9.40" lengthAdjust="spacingAndGlyphs" transform="rotate(-90 477.50 166.30)" stroke="#1a1a1a" stroke-width="0.18">2007</text>
<text x="483.63" y="166.30" font-size="3.50" text-anchor="end" font-weight="bold" fill="#1a1a1a" textLength="9.40" lengthAdjust="spacingAndGlyphs" transform="rotate(-90 483.63 166.30)" stroke="#1a1a1a" stroke-width="0.18">2008</text>
<text x="489.75" y="166.30" font-size="3.50" text-anchor="end" font-weight="bold" fill="#1a1a1a" textLength="9.40" lengthAdjust="spacingAndGlyphs" transform="rotate(-90 489.75 166.30)" stroke="#1a1a1a" stroke-width="0.18">2009</text>
<text x="495.87" y="166.30" font-size="3.50" text-anchor="end" font-weight="bold" fill="#1a1a1a" textLength="9.40" lengthAdjust="spacingAndGlyphs" transform="rotate(-90 495.87 166.30)" stroke="#1a1a1a" stroke-width="0.18">2010</text>
<text x="502.00" y="166.30" font-size="3.50" text-anchor="end" font-weight="bold" fill="#1a1a1a" textLength="9.40" lengthAdjust="spacingAndGlyphs" transform="rotate(-90 502.00 166.30)" stroke="#1a1a1a" stroke-width="0.18">2011</text>
<text x="508.12" y="166.30" font-size="3.50" text-anchor="end" font-weight="bold" fill="#1a1a1a" textLength="9.40" lengthAdjust="spacingAndGlyphs" transform="rotate(-90 508.12 166.30)" stroke="#1a1a1a" stroke-width="0.18">2012</text>
<text x="514.24" y="166.30" font-size="3.50" text-anchor="end" font-weight="bold" fill="#1a1a1a" textLength="9.40" lengthAdjust="spacingAndGlyphs" transform="rotate(-90 514.24 166.30)" stroke="#1a1a1a" stroke-width="0.18">2014</text>
<text x="520.36" y="166.30" font-size="3.50" text-anchor="end" font-weight="bold" fill="#1a1a1a" textLength="9.40" lengthAdjust="spacingAndGlyphs" transform="rotate(-90 520.36 166.30)" stroke="#1a1a1a" stroke-width="0.18">2015</text>
<text x="526.49" y="166.30" font-size="3.50" text-anchor="end" font-weight="bold" fill="#1a1a1a" textLength="9.40" lengthAdjust="spacingAndGlyphs" transform="rotate(-90 526.49 166.30)" stroke="#1a1a1a" stroke-width="0.18">2016</text>
<text x="532.61" y="166.30" font-size="3.50" text-anchor="end" font-weight="bold" fill="#1a1a1a" textLength="9.40" lengthAdjust="spacingAndGlyphs" transform="rotate(-90 532.61 166.30)" stroke="#1a1a1a" stroke-width="0.18">2017</text>
<text x="538.73" y="166.30" font-size="3.50" text-anchor="end" font-weight="bold" fill="#1a1a1a" textLength="9.40" lengthAdjust="spacingAndGlyphs" transform="rotate(-90 538.73 166.30)" stroke="#1a1a1a" stroke-width="0.18">2018</text>
<text x="544.86" y="166.30" font-size="3.50" text-anchor="end" font-weight="bold" fill="#1a1a1a" textLength="9.40" lengthAdjust="spacingAndGlyphs" transform="rotate(-90 544.86 166.30)" stroke="#1a1a1a" stroke-width="0.18">2019</text>
<path d="M301.50 162.60 v2M307.47 162.60 v2M313.44 162.60 v2M319.42 162.60 v2M325.39 162.60 v2M331.36 162.60 v2M337.33 162.60 v2M343.31 162.60 v2M349.28 162.60 v2M355.25 162.60 v2M361.22 162.60 v2M367.19 162.60 v2M373.17 162.60 v2M379.14 162.60 v2M385.11 162.60 v2M391.08 162.60 v2M397.06 162.60 v2M403.03 162.60 v2M409.00 162.60 v2M415.12 162.60 v2M421.25 162.60 v2M427.37 162.60 v2M433.49 162.60 v2M439.61 162.60 v2M445.74 162.60 v2M451.86 162.60 v2M457.98 162.60 v2M464.10 162.60 v2M470.23 162.60 v2M476.35 162.60 v2M482.47 162.60 v2M488.60 162.60 v2M494.72 162.60 v2M500.84 162.60 v2M506.96 162.60 v2M513.09 162.60 v2M519.21 162.60 v2M525.33 162.60 v2M531.45 162.60 v2M537.58 162.60 v2M543.70 162.60 v2" stroke="#c8c8c8" stroke-width="0.5" fill="none"/>
<text x="285.50" y="93.00" font-size="5.00" text-anchor="middle" font-weight="bold" fill="#1a1a1a" textLength="32.50" lengthAdjust="spacingAndGlyphs" transform="rotate(-90 285.50 93.00)" stroke="#1a1a1a" stroke-width="0.18">Rainfall (mm)</text>
<text x="417.80" y="184.30" font-size="5.20" text-anchor="middle" font-weight="bold" fill="#1a1a1a" textLength="10.60" lengthAdjust="spacingAndGlyphs" stroke="#1a1a1a" stroke-width="0.18">Years</text>
<text x="420.10" y="15.80" font-size="9.20" text-anchor="middle" font-weight="bold" fill="#1a1a1a" textLength="209.80" lengthAdjust="spacingAndGlyphs" stroke="#1a1a1a" stroke-width="0.12">Daily Time Series for Station Ibu Bekalan KM16, Gombak</text>
<text x="420.10" y="27.50" font-size="9.20" text-anchor="middle" font-weight="bold" fill="#1a1a1a" textLength="32.20" lengthAdjust="spacingAndGlyphs" stroke="#1a1a1a" stroke-width="0.12">(3217001)</text>
<path d="M271.80 202.60 H3.70 V382.20 H271.80" fill="none" stroke="#d4d4d4" stroke-width="0.9"/>
<path d="M271.80 202.60 V382.20" fill="none" stroke="#ebebeb" stroke-width="0.8"/>
<path d="M24.00 206.80 V357.80 M24.00 358.10 H271.60" stroke="#c8c8c8" stroke-width="1.1" fill="none"/>
<path d="M24.00 357.80V312.2H24.875V311.4H25V310.5H25.875V331.8H26.125V315.5H26.25V342.6H26.625V336.2H26.875V320.4H27V321.4H27.875V328.4H28V333.5H28.25V321.4H28.875V311.3H29V300.1H30V310H30.125V323.9H31.25V332.5H31.5V331.4H31.875V321.3H32V298.6H32.125V295.1H33.125V315.3H33.25V333.6H33.875V342.1H34.5V357.8H37.25V354.7H37.875V351.5H38.5V348.4H39.125V344H39.5V335.8H40V305.8H40.75V335.8H41V305.8H41.125V320.8H41.25V342.3H41.375V334.4H42V327.4H42.125V313H42.25V332.1H42.375V311.3H43.125V317H43.25V322.2H44.875V341.3H45.25V333.6H45.875V311.8H46V290.4H47.125V297.5H47.25V303.8H48.75V333.4H49V318.9H50V337.7H50.125V339.3H50.25V325.5H51.75V327H51.875V357.8H52.375V331.3H52.5V340.2H52.875V345.7H53.125V340.2H53.625V331.3H53.875V324.2H54V345.1H54.125V316.3H54.875V316.7H55V322.5H55.125V325.5H55.875V346.4H56.125V318H56.25V336.8H56.5V318H57V319.9H57.125V327.9H57.25V345.2H57.5V332H57.875V326.7H58V322.2H58.375V343.7H58.5V322.2H58.625V329.9H58.75V322.2H59.125V327H59.25V331.3H59.375V334.3H59.5V343.9H59.75V333.6H59.875V352.1H60.375V333.6H60.875V334.7H61.125V333.8H62V333.6H62.375V318.9H63.125V322.4H63.25V325.5H64V323.1H64.125V304.3H64.25V295.4H65.125V308.6H65.25V320.5H66.875V319.3H67V318H68V322.1H68.125V325.5H68.875V319.8H69V313.5H70V345.6H70.25V357.8H70.875V330.8H71.25V331.5H71.375V332.7H71.5V345.2H72.25V332.8H72.875V311.5H73V287.9H74.125V297.6H74.25V306.3H75.625V335.2H76.5V331.3H76.625V331.5H76.75V331.6H77.875V322H78V311.3H79V332.8H79.125V322.3H79.25V332.3H79.375V342.7H80.125V332.3H80.25V333.4H80.375V339H80.625V334.3H81.125V331.3H81.25V325.3H81.375V324.7H82.5V337.7H82.75V307.1H82.875V305.8H83.5V333.1H83.625V305.8H83.875V302.3H84V298.5H85.125V328H85.25V316.3H85.375V338.6H85.5V316.3H86.875V316H87V315.5H88V321.5H88.125V332.5H88.25V333.2H88.875V326H89V328.4H89.125V318H90.125V324.4H90.25V333.6H91V330.6H91.125V331.5H91.875V327H92V311.2H92.125V306.3H92.5V340.4H92.75V306.3H93V309.4H93.125V316.2H93.25V344.7H93.375V317.2H93.875V305.9H94V293.4H95.125V313.1H95.25V337H96.125V325.5H97.125V330.3H97.25V334.5H97.75V339.6H98.5V343.1H98.625V313H98.75V332.1H98.875V313H100V312.8H100.125V312.3H100.25V312.2H101.125V317.4H101.25V322.2H102.875V308.7H103V293.8H104.125V300.4H104.25V306.3H104.875V304.5H105V281.2H105.125V269H106.125V303.2H106.25V334.2H106.375V345.8H107.375V315.5H108.875V300.4H109V283.7H110V296.5H110.125V313H110.75V326.3H111V321.2H111.125V321.4H112.875V335.2H113.625V334.2H113.875V334.3H114.625V331.3H114.75V330.2H114.875V326.8H115.25V323.9H115.875V316.3H116V308H117.125V315.4H117.25V322.2H117.5V340.6H117.625V340.3H117.875V322.2H118.75V354.7H119.375V333.9H119.875V321.6H120V308H120.125V346.4H120.25V308H121.125V322.1H121.25V343.6H122V325.5H122.875V322.9H123V314.4H123.125V311.8H124.125V319.5H124.25V326.4H125.25V333.6H125.625V334.1H127.25V341.5H127.5V337H129.25V331.4H129.375V343.4H129.625V334.4H130.125V330.2H130.25V323.1H130.375V323H131.125V328H131.25V355.3H132.125V332.6H132.75V333.1H132.875V342.1H133.875V333.9H134V335.7H134.125V333.9H134.375V327H134.5V315.5H135.875V309.2H136V302.1H136.875V332.1H137V328.2H137.25V312.2H137.875V300.4H138V287.4H139V294H139.125V322.5H139.25V357.8H139.875V325.5H140.375V343.8H140.5V325.5H140.875V320H141V313.8H142V314.6H142.125V318.8H142.25V320.5H142.875V312.2H143V303H144.125V318.4H144.25V332.3H144.75V336.5H145V311.6H145.125V297.5H146.125V312.2H146.25V325.5H147.25V345.4H147.625V325.5H147.875V315.4H148V304.1H149.125V307.5H149.25V310.5H150V333.4H150.125V335.8H150.5V310.5H151V318.6H151.125V352.1H151.625V327.1H151.75V322.2H152.5V331.7H152.75V322.2H152.875V312.7H153V302.1H154.125V310H154.25V317.2H155V318.5H155.125V322.6H155.25V323.9H155.875V319.1H156V310.7H156.125V310.5H157.125V323.3H157.25V337.7H157.75V344.6H158V337.7H159.25V346.3H159.5V331.7H159.875V320.4H160V308H161.125V310.2H161.25V312.2H162.5V337.7H162.75V324.4H162.875V324.7H163.75V328.2H164V289.6H165.125V311.2H165.25V330.7H165.75V332H167.125V333.8H167.25V334.2H168.625V329.2H168.75V314.9H168.875V311.3H170V311H170.125V310.5H171.125V315.8H171.25V320.5H172V311.2H172.125V293.3H172.25V291.8H173.125V305.1H173.25V352.8H173.625V317.2H174V341.7H174.25V310.3H174.375V308.8H175V307.1H175.125V303.5H175.25V303H176.125V309.6H176.25V315.5H176.75V344.5H176.875V312.7H177V301H177.125V296.8H178V306.3H178.125V329.7H178.25V357.8H178.75V318.1H178.875V310.5H179.875V308.8H180V299.9H180.125V296.3H181V300.6H181.125V312.6H181.25V315.5H181.875V311.1H182V306.3H182.125V330H182.25V306.3H183V307.2H183.125V309.8H183.25V310.5H183.875V297H184V282.1H184.875V283.4H185V297H185.125V303.8H185.375V288.8H185.5V277.1H186.125V285.8H186.25V293.8H187.625V326.9H187.875V317.2H189V318.3H189.125V324.6H189.25V327.2H190.625V329.9H190.75V334.8H190.875V335.1H191.25V327.5H191.375V318.9H191.625V338.8H191.875V318.9H193V335H193.25V329.2H193.375V318.9H193.5V313.8H193.625V301.7H193.75V299.6H195.375V318.6H195.625V253.4H196V242H196.125V228.2H196.875V230.4H197V246.1H197.125V253.4H197.25V257H197.375V286.4H197.5V300.5H198V332.6H198.25V333.6H198.625V344.6H199.625V342.3H199.75V332.9H200.375V344.9H200.625V332.9H200.875V319.5H201V304.6H202V314.5H202.125V332.8H202.25V335.2H203.25V330.8H203.875V321.9H204V294.1H204.125V286.2H205.125V293.7H205.25V300.5H206.5V340.2H207.375V333.5H207.875V323H208V311.3H208.5V347.7H208.875V311.3H209V313.3H209.125V318H209.25V318.9H209.875V314.5H210V309.7H211V315.2H211.125V335.2H211.875V310.9H212V287.1H213.125V310.1H213.25V332H214V320.5H214.375V337.5H214.625V320.5H215.625V328.5H215.75V320.5H215.875V342.1H216V313H217.125V317H217.25V320.5H217.375V326.5H217.625V320.5H217.875V333.8H218V327.7H218.125V315.1H218.25V313.8H219.125V315.6H219.25V317.2H220.625V333.3H220.75V317.2H221.625V322.2H221.75V330.9H221.875V331.1H222.25V333.8H222.5V319.7H222.625V346.2H223V345.4H223.25V319.7H224V308.7H224.125V302.1H225V303.2H225.125V309.5H225.25V312.2H225.875V302.6H226V292.1H227V305.8H227.125V315.5H227.625V338.2H227.75V315.5H227.875V302.4H228V287.9H229V290.8H229.125V318.9H229.25V337H229.875V327H230V319.7H230.75V329.3H230.875V319.7H231V339.5H231.125V322.8H231.25V325.5H232V301.1H232.125V261.6H233V293.6H233.125V325.5H233.625V340.5H233.875V325.5H234V325.2H234.125V314.2H234.25V334.8H234.5V308H235V312.6H235.125V317.2H235.375V340.8H235.75V317.2H235.875V307.7H236V297.1H237V306.9H237.125V317.2H237.875V344.5H238V303.8H239.125V309.1H239.25V313.8H240.875V311.5H241V351.1H241.5V308.8H242.125V315.4H242.25V320.5H242.875V319.5H243V317.4H243.125V317.2H244.125V324.6H244.25V331.4H244.75V341.4H244.875V331.4H245.125V325.4H245.25V313.4H245.375V312.2H246V303.7H246.125V291.3H247.125V300.5H247.25V308.8H247.875V344.4H248.25V315.5H249.25V336.8H249.5V323.9H250.625V332.6H251V346.2H252.25V332.6H252.375V335.5H252.5V332.6H252.625V327.2H253.875V313.3H254V298H254.75V304.1H254.875V341.8H255.125V302.6H255.25V294.6H256.125V332.6H256.25V333.2H256.5V342.7H257.75V332.6H258.125V332.1H258.5V344H258.875V320.9H259V308.5H260.125V317.4H260.25V325.5H260.375V340.2H261.125V325.5H261.375V333.9H261.625V322.2H262.875V344.7H263V292.4H263.875V294.4H264V307.8H264.125V313.8H265.12 V357.80 Z" fill="#02AFCB"/>
<text x="19.90" y="359.55" font-size="5.30" text-anchor="end" font-weight="bold" fill="#1a1a1a" textLength="2.30" lengthAdjust="spacingAndGlyphs" stroke="#1a1a1a" stroke-width="0.18">0</text>
<text x="19.90" y="346.97" font-size="5.30" text-anchor="end" font-weight="bold" fill="#1a1a1a" textLength="4.60" lengthAdjust="spacingAndGlyphs" stroke="#1a1a1a" stroke-width="0.18">20</text>
<text x="19.90" y="334.38" font-size="5.30" text-anchor="end" font-weight="bold" fill="#1a1a1a" textLength="4.60" lengthAdjust="spacingAndGlyphs" stroke="#1a1a1a" stroke-width="0.18">40</text>
<text x="19.90" y="321.80" font-size="5.30" text-anchor="end" font-weight="bold" fill="#1a1a1a" textLength="4.60" lengthAdjust="spacingAndGlyphs" stroke="#1a1a1a" stroke-width="0.18">60</text>
<text x="19.90" y="309.22" font-size="5.30" text-anchor="end" font-weight="bold" fill="#1a1a1a" textLength="4.60" lengthAdjust="spacingAndGlyphs" stroke="#1a1a1a" stroke-width="0.18">80</text>
<text x="19.90" y="296.63" font-size="5.30" text-anchor="end" font-weight="bold" fill="#1a1a1a" textLength="6.90" lengthAdjust="spacingAndGlyphs" stroke="#1a1a1a" stroke-width="0.18">100</text>
<text x="19.90" y="284.05" font-size="5.30" text-anchor="end" font-weight="bold" fill="#1a1a1a" textLength="6.90" lengthAdjust="spacingAndGlyphs" stroke="#1a1a1a" stroke-width="0.18">120</text>
<text x="19.90" y="271.47" font-size="5.30" text-anchor="end" font-weight="bold" fill="#1a1a1a" textLength="6.90" lengthAdjust="spacingAndGlyphs" stroke="#1a1a1a" stroke-width="0.18">140</text>
<text x="19.90" y="258.88" font-size="5.30" text-anchor="end" font-weight="bold" fill="#1a1a1a" textLength="6.90" lengthAdjust="spacingAndGlyphs" stroke="#1a1a1a" stroke-width="0.18">160</text>
<text x="19.90" y="246.30" font-size="5.30" text-anchor="end" font-weight="bold" fill="#1a1a1a" textLength="6.90" lengthAdjust="spacingAndGlyphs" stroke="#1a1a1a" stroke-width="0.18">180</text>
<text x="19.90" y="233.72" font-size="5.30" text-anchor="end" font-weight="bold" fill="#1a1a1a" textLength="6.90" lengthAdjust="spacingAndGlyphs" stroke="#1a1a1a" stroke-width="0.18">200</text>
<text x="19.90" y="221.13" font-size="5.30" text-anchor="end" font-weight="bold" fill="#1a1a1a" textLength="6.90" lengthAdjust="spacingAndGlyphs" stroke="#1a1a1a" stroke-width="0.18">220</text>
<text x="19.90" y="208.55" font-size="5.30" text-anchor="end" font-weight="bold" fill="#1a1a1a" textLength="6.90" lengthAdjust="spacingAndGlyphs" stroke="#1a1a1a" stroke-width="0.18">240</text>
<path d="M24.00 357.80 h-2.0M24.00 345.22 h-2.0M24.00 332.63 h-2.0M24.00 320.05 h-2.0M24.00 307.47 h-2.0M24.00 294.88 h-2.0M24.00 282.30 h-2.0M24.00 269.72 h-2.0M24.00 257.13 h-2.0M24.00 244.55 h-2.0M24.00 231.97 h-2.0M24.00 219.38 h-2.0M24.00 206.80 h-2.0" stroke="#c8c8c8" stroke-width="0.6" fill="none"/>
<text x="26.25" y="361.50" font-size="5.00" text-anchor="end" font-weight="bold" fill="#1a1a1a" textLength="9.50" lengthAdjust="spacingAndGlyphs" transform="rotate(-90 26.25 361.50)" stroke="#1a1a1a" stroke-width="0.18">1985</text>
<text x="34.42" y="361.50" font-size="5.00" text-anchor="end" font-weight="bold" fill="#1a1a1a" textLength="9.50" lengthAdjust="spacingAndGlyphs" transform="rotate(-90 34.42 361.50)" stroke="#1a1a1a" stroke-width="0.18">1986</text>
<text x="42.59" y="361.50" font-size="5.00" text-anchor="end" font-weight="bold" fill="#1a1a1a" textLength="9.50" lengthAdjust="spacingAndGlyphs" transform="rotate(-90 42.59 361.50)" stroke="#1a1a1a" stroke-width="0.18">1987</text>
<text x="50.76" y="361.50" font-size="5.00" text-anchor="end" font-weight="bold" fill="#1a1a1a" textLength="9.50" lengthAdjust="spacingAndGlyphs" transform="rotate(-90 50.76 361.50)" stroke="#1a1a1a" stroke-width="0.18">1988</text>
<text x="58.93" y="361.50" font-size="5.00" text-anchor="end" font-weight="bold" fill="#1a1a1a" textLength="9.50" lengthAdjust="spacingAndGlyphs" transform="rotate(-90 58.93 361.50)" stroke="#1a1a1a" stroke-width="0.18">1989</text>
<text x="67.10" y="361.50" font-size="5.00" text-anchor="end" font-weight="bold" fill="#1a1a1a" textLength="9.50" lengthAdjust="spacingAndGlyphs" transform="rotate(-90 67.10 361.50)" stroke="#1a1a1a" stroke-width="0.18">1990</text>
<text x="75.27" y="361.50" font-size="5.00" text-anchor="end" font-weight="bold" fill="#1a1a1a" textLength="9.50" lengthAdjust="spacingAndGlyphs" transform="rotate(-90 75.27 361.50)" stroke="#1a1a1a" stroke-width="0.18">1991</text>
<text x="83.44" y="361.50" font-size="5.00" text-anchor="end" font-weight="bold" fill="#1a1a1a" textLength="9.50" lengthAdjust="spacingAndGlyphs" transform="rotate(-90 83.44 361.50)" stroke="#1a1a1a" stroke-width="0.18">1992</text>
<text x="91.61" y="361.50" font-size="5.00" text-anchor="end" font-weight="bold" fill="#1a1a1a" textLength="9.50" lengthAdjust="spacingAndGlyphs" transform="rotate(-90 91.61 361.50)" stroke="#1a1a1a" stroke-width="0.18">1993</text>
<text x="99.78" y="361.50" font-size="5.00" text-anchor="end" font-weight="bold" fill="#1a1a1a" textLength="9.50" lengthAdjust="spacingAndGlyphs" transform="rotate(-90 99.78 361.50)" stroke="#1a1a1a" stroke-width="0.18">1994</text>
<text x="107.95" y="361.50" font-size="5.00" text-anchor="end" font-weight="bold" fill="#1a1a1a" textLength="9.50" lengthAdjust="spacingAndGlyphs" transform="rotate(-90 107.95 361.50)" stroke="#1a1a1a" stroke-width="0.18">1996</text>
<text x="116.12" y="361.50" font-size="5.00" text-anchor="end" font-weight="bold" fill="#1a1a1a" textLength="9.50" lengthAdjust="spacingAndGlyphs" transform="rotate(-90 116.12 361.50)" stroke="#1a1a1a" stroke-width="0.18">1997</text>
<text x="124.28" y="361.50" font-size="5.00" text-anchor="end" font-weight="bold" fill="#1a1a1a" textLength="9.50" lengthAdjust="spacingAndGlyphs" transform="rotate(-90 124.28 361.50)" stroke="#1a1a1a" stroke-width="0.18">1998</text>
<text x="132.45" y="361.50" font-size="5.00" text-anchor="end" font-weight="bold" fill="#1a1a1a" textLength="9.50" lengthAdjust="spacingAndGlyphs" transform="rotate(-90 132.45 361.50)" stroke="#1a1a1a" stroke-width="0.18">1999</text>
<text x="140.62" y="361.50" font-size="5.00" text-anchor="end" font-weight="bold" fill="#1a1a1a" textLength="9.50" lengthAdjust="spacingAndGlyphs" transform="rotate(-90 140.62 361.50)" stroke="#1a1a1a" stroke-width="0.18">2000</text>
<text x="148.78" y="361.50" font-size="5.00" text-anchor="end" font-weight="bold" fill="#1a1a1a" textLength="9.50" lengthAdjust="spacingAndGlyphs" transform="rotate(-90 148.78 361.50)" stroke="#1a1a1a" stroke-width="0.18">2001</text>
<text x="156.95" y="361.50" font-size="5.00" text-anchor="end" font-weight="bold" fill="#1a1a1a" textLength="9.50" lengthAdjust="spacingAndGlyphs" transform="rotate(-90 156.95 361.50)" stroke="#1a1a1a" stroke-width="0.18">2002</text>
<text x="165.12" y="361.50" font-size="5.00" text-anchor="end" font-weight="bold" fill="#1a1a1a" textLength="9.50" lengthAdjust="spacingAndGlyphs" transform="rotate(-90 165.12 361.50)" stroke="#1a1a1a" stroke-width="0.18">2003</text>
<text x="173.28" y="361.50" font-size="5.00" text-anchor="end" font-weight="bold" fill="#1a1a1a" textLength="9.50" lengthAdjust="spacingAndGlyphs" transform="rotate(-90 173.28 361.50)" stroke="#1a1a1a" stroke-width="0.18">2004</text>
<text x="181.45" y="361.50" font-size="5.00" text-anchor="end" font-weight="bold" fill="#1a1a1a" textLength="9.50" lengthAdjust="spacingAndGlyphs" transform="rotate(-90 181.45 361.50)" stroke="#1a1a1a" stroke-width="0.18">2005</text>
<text x="189.95" y="361.50" font-size="5.00" text-anchor="end" font-weight="bold" fill="#1a1a1a" textLength="9.50" lengthAdjust="spacingAndGlyphs" transform="rotate(-90 189.95 361.50)" stroke="#1a1a1a" stroke-width="0.18">2007</text>
<text x="198.22" y="361.50" font-size="5.00" text-anchor="end" font-weight="bold" fill="#1a1a1a" textLength="9.50" lengthAdjust="spacingAndGlyphs" transform="rotate(-90 198.22 361.50)" stroke="#1a1a1a" stroke-width="0.18">2008</text>
<text x="206.49" y="361.50" font-size="5.00" text-anchor="end" font-weight="bold" fill="#1a1a1a" textLength="9.50" lengthAdjust="spacingAndGlyphs" transform="rotate(-90 206.49 361.50)" stroke="#1a1a1a" stroke-width="0.18">2009</text>
<text x="214.76" y="361.50" font-size="5.00" text-anchor="end" font-weight="bold" fill="#1a1a1a" textLength="9.50" lengthAdjust="spacingAndGlyphs" transform="rotate(-90 214.76 361.50)" stroke="#1a1a1a" stroke-width="0.18">2010</text>
<text x="223.03" y="361.50" font-size="5.00" text-anchor="end" font-weight="bold" fill="#1a1a1a" textLength="9.50" lengthAdjust="spacingAndGlyphs" transform="rotate(-90 223.03 361.50)" stroke="#1a1a1a" stroke-width="0.18">2011</text>
<text x="231.30" y="361.50" font-size="5.00" text-anchor="end" font-weight="bold" fill="#1a1a1a" textLength="9.50" lengthAdjust="spacingAndGlyphs" transform="rotate(-90 231.30 361.50)" stroke="#1a1a1a" stroke-width="0.18">2012</text>
<text x="239.57" y="361.50" font-size="5.00" text-anchor="end" font-weight="bold" fill="#1a1a1a" textLength="9.50" lengthAdjust="spacingAndGlyphs" transform="rotate(-90 239.57 361.50)" stroke="#1a1a1a" stroke-width="0.18">2013</text>
<text x="247.84" y="361.50" font-size="5.00" text-anchor="end" font-weight="bold" fill="#1a1a1a" textLength="9.50" lengthAdjust="spacingAndGlyphs" transform="rotate(-90 247.84 361.50)" stroke="#1a1a1a" stroke-width="0.18">2014</text>
<text x="256.11" y="361.50" font-size="5.00" text-anchor="end" font-weight="bold" fill="#1a1a1a" textLength="9.50" lengthAdjust="spacingAndGlyphs" transform="rotate(-90 256.11 361.50)" stroke="#1a1a1a" stroke-width="0.18">2015</text>
<text x="264.38" y="361.50" font-size="5.00" text-anchor="end" font-weight="bold" fill="#1a1a1a" textLength="9.50" lengthAdjust="spacingAndGlyphs" transform="rotate(-90 264.38 361.50)" stroke="#1a1a1a" stroke-width="0.18">2016</text>
<text x="272.65" y="361.50" font-size="5.00" text-anchor="end" font-weight="bold" fill="#1a1a1a" textLength="9.50" lengthAdjust="spacingAndGlyphs" transform="rotate(-90 272.65 361.50)" stroke="#1a1a1a" stroke-width="0.18">2017</text>
<path d="M24.60 357.80 v2M32.77 357.80 v2M40.94 357.80 v2M49.11 357.80 v2M57.28 357.80 v2M65.45 357.80 v2M73.62 357.80 v2M81.79 357.80 v2M89.96 357.80 v2M98.13 357.80 v2M106.30 357.80 v2M114.47 357.80 v2M122.63 357.80 v2M130.80 357.80 v2M138.97 357.80 v2M147.13 357.80 v2M155.30 357.80 v2M163.47 357.80 v2M171.63 357.80 v2M179.80 357.80 v2M188.30 357.80 v2M196.57 357.80 v2M204.84 357.80 v2M213.11 357.80 v2M221.38 357.80 v2M229.65 357.80 v2M237.92 357.80 v2M246.19 357.80 v2M254.46 357.80 v2M262.73 357.80 v2M271.00 357.80 v2" stroke="#c8c8c8" stroke-width="0.5" fill="none"/>
<text x="11.50" y="291.00" font-size="5.00" text-anchor="middle" font-weight="bold" fill="#1a1a1a" textLength="32.50" lengthAdjust="spacingAndGlyphs" transform="rotate(-90 11.50 291.00)" stroke="#1a1a1a" stroke-width="0.18">Rainfall (mm)</text>
<text x="143.90" y="379.10" font-size="5.20" text-anchor="middle" font-weight="bold" fill="#1a1a1a" textLength="10.60" lengthAdjust="spacingAndGlyphs" stroke="#1a1a1a" stroke-width="0.18">Years</text>
<text x="148.20" y="215.20" font-size="9.20" text-anchor="middle" font-weight="bold" fill="#1a1a1a" textLength="211.00" lengthAdjust="spacingAndGlyphs" stroke="#1a1a1a" stroke-width="0.12">Daily Time Series for Station Air Terjun Sg. Batu (3317001)</text>
<path d="M545.60 202.60 H277.35 V382.00 H545.60" fill="none" stroke="#b0b0b0" stroke-width="0.9"/>
<path d="M298.70 207.20 V358.00 M298.70 358.30 H545.40" stroke="#c8c8c8" stroke-width="1.1" fill="none"/>
<path d="M298.60 358.00V331.5H299.1V337.3H299.975V343.9H300.1V336H300.85V315.3H300.975V278.5H301.1V277.1H302.1V291.9H302.225V310.5H302.475V344.8H302.725V310.5H302.85V304.5H302.975V285.1H303.1V279.6H304.1V303.4H304.225V335.6H305.1V336.9H305.225V337.8H305.975V338.3H306.1V318H306.35V328.1H306.6V318H306.85V326.1H307.1V322.2H307.225V329.2H307.475V294.6H308.85V293.8H308.975V292.5H309.1V292.4H309.85V311.9H309.975V323.9H310.85V323.6H310.975V323.1H311.1V323H311.725V326.2H311.975V325.2H312.1V342H312.85V332.7H313.225V332.6H313.35V337.3H313.475V340H313.725V337.3H314.1V297.5H314.225V290.4H315.1V301.1H315.225V317.2H315.6V322.5H315.85V317.2H316.85V310.2H316.975V297.6H317.1V297.1H318.1V306.5H318.225V320.5H319.725V329.8H319.85V314.7H319.975V304.2H320.1V303.8H321.1V309.2H321.225V317.2H321.475V334.3H321.725V317.2H321.975V327.8H322.1V317.2H322.35V332.9H322.475V317.2H322.6V343.9H323.225V325.3H323.35V315.5H323.6V335.5H323.725V315.5H324.1V335.8H324.35V315.5H324.975V311H325.1V333.9H325.225V308H325.35V327H325.475V322.5H325.725V308H326.1V319H326.225V335.6H327.85V317.8H327.975V285.9H328.1V284.6H329.1V295.6H329.225V312.2H330.475V331.1H330.6V317.7H330.725V347.1H331.225V333H331.85V333.3H332.1V298.5H332.475V342.9H332.725V328.1H332.975V298.5H333.1V299.3H333.225V300.5H333.85V342.4H333.975V300.5H334.35V328.3H334.6V315.5H334.85V320.8H334.975V315.5H335.725V328.9H335.975V322.2H336.975V314.4H337.1V305.8H337.725V328.2H337.85V305.8H337.975V335.5H338.225V313.8H338.35V323.2H338.6V313.8H339.725V358H341.6V328.1H341.725V305.8H342.1V317H342.225V333.7H343.225V329.2H343.35V314.7H343.475V310.5H344.725V344.6H344.975V305.3H345.1V305.1H346.1V307.3H346.225V310.5H346.725V353.3H347.725V326.3H347.85V336.5H348.1V341H349.475V337.6H349.725V335.3H349.85V332.2H349.975V331.6H351.85V319H351.975V296.7H352.1V295.8H353.1V301.3H353.225V309.7H353.975V344.1H354.1V309.7H354.475V330.9H354.85V358H355.725V332.4H356.85V318.8H356.975V294.7H357.1V293.8H358.1V334H358.225V334.1H358.475V320.5H358.975V330.1H359.225V320.5H359.85V310.9H359.975V293.6H360.1V292.9H360.975V321.1H361.1V331.1H361.225V343.9H361.725V337.5H361.85V327H361.975V308.2H362.1V307.5H363.1V310H363.225V313.8H364.85V297.7H364.975V269H365.1V267.9H365.975V269.8H366.1V276.6H366.225V278.7H366.85V277.4H366.975V275.1H367.1V275H368.1V285.2H368.225V300.5H369.475V297.2H369.6V288.9H369.725V287.1H370.85V282.3H370.975V273.7H371.1V273.4H371.725V281.7H371.85V295.4H372.1V277.1H372.225V261.6H372.975V271.1H373.1V287.1H373.975V277.9H374.1V262.6H374.975V289.1H375.1V333.4H375.475V335.4H375.85V340H375.975V313.5H376.1V299.6H376.35V342.6H376.725V299.6H377.1V310H377.225V325.5H377.725V344.1H378.1V333.5H378.6V340.4H379.225V315.7H379.35V292.9H381.85V284.4H381.975V269.3H382.1V268.7H383.1V273.7H383.225V281.2H384.35V315H384.6V283.7H385.725V323.5H385.975V294.4H386.1V296.3H386.85V343.1H386.975V333H387.225V315.5H388.35V320.9H388.475V334.2H388.6V336.7H388.85V340.3H389.1V320.5H389.85V339.8H389.975V320.5H390.35V336.2H390.6V318.9H391.475V333.2H391.85V294.6H392.1V332.6H392.35V329.9H392.475V323.8H392.725V294.6H392.85V288.8H392.975V278.3H393.1V277.9H393.85V332H394.225V318.9H394.475V335.9H394.725V318.9H394.85V303.9H394.975V277.3H395.1V276.2H395.85V279.9H395.975V309.7H396.1V323.9H396.475V342H396.6V343.2H396.725V342H396.85V335.9H397.1V326.3H397.225V326.4H397.6V330.7H398.35V326.4H398.85V316.4H398.975V298.7H399.1V298H400.1V339.2H400.35V301.3H401.225V309.8H401.35V331.1H401.475V358H401.85V317.7H401.975V288H402.1V287.9H403.85V286.6H403.975V284.2H404.1V284.1H404.975V298.2H405.1V307.2H405.725V342H405.975V340.5H406.1V309.7H406.975V330.4H407.225V310.4H407.35V310.5H408.85V308.6H408.975V305.3H409.1V305.1H409.225V331.2H409.475V305.1H409.85V332H410.1V343.8H410.35V340.4H410.725V331.8H410.85V313.8H410.975V281.7H411.1V280.4H412.1V296.4H412.225V320.5H413.85V317.6H413.975V312.4H414.1V312.2H415.1V337.9H415.35V334.8H416.1V332H416.225V294.6H416.975V286.3H417.1V277.9H418.1V292.9H418.225V315.5H420.475V328.8H420.6V335.1H420.725V335.7H421.1V329H421.225V321.4H422.85V330H422.975V308.8H423.1V308.5H424.1V309.3H424.225V310.5H424.85V331.4H424.975V331.5H425.225V310.5H425.6V314H425.725V318.9H426.225V326.4H426.475V318.9H426.6V342.8H426.85V327.2H426.975V322.2H428.85V315.5H428.975V303.5H429.1V303H429.85V329.5H429.975V326.5H430.1V331.5H430.225V331.9H430.85V309.5H430.975V269.5H431.1V267.9H431.975V277.3H432.1V294.5H432.225V295.4H432.725V354.6H432.975V267.4H433.1V266.7H433.85V273.4H433.975V294.5H434.1V300.5H434.725V324.6H434.975V302.1H435.975V316.7H436.225V275.4H436.975V260.6H437.1V235.9H437.975V260.1H438.1V300.5H438.725V337H438.975V332.4H439.225V300.5H439.35V332.9H439.725V300.5H439.85V290.2H439.975V271.9H440.1V271.2H440.725V271.3H440.85V281.2H440.975V287.1H441.225V278.6H441.35V270.4H441.975V274.4H442.1V284.8H442.225V287.1H442.85V278.9H442.975V264.3H443.1V263.7H443.85V269.1H443.975V303.6H444.1V318.9H444.35V339.8H444.6V332.3H444.725V318.9H445.1V333.5H445.225V335.6H445.85V319.2H445.975V289.9H446.1V288.8H447.1V305.9H447.225V331.6H447.85V330.7H447.975V294.6H448.1V277.9H449.1V300H449.225V333.2H450.1V335.4H450.975V343.2H451.35V331.3H451.85V324.6H451.975V294.7H452.1V293.8H453.1V295.1H453.225V297.1H454.475V298.9H454.6V300.5H455.225V323.2H455.475V321.7H455.725V320H455.975V303H457.6V313.2H457.725V357.1H458.225V332.2H458.35V337.5H458.475V332.2H459.85V311.6H459.975V274.8H460.1V273.4H460.975V289.2H461.1V335.2H461.225V319.7H461.475V344.6H461.85V319.7H462.35V325.9H462.475V337.4H462.6V338H463.85V326.6H463.975V306.3H464.1V305.5H465.1V309H465.225V313.8H465.85V305.9H465.975V277.5H466.1V268.4H467.1V286.8H467.225V331.1H467.35V313.8H467.85V341.5H467.975V313.8H468.475V314.4H468.6V342H469.1V345.4H470.35V338.1H470.475V330.5H470.6V324.8H470.725V315.5H471.975V324.7H472.35V314.8H472.475V311.7H472.6V310.5H473.1V321.6H473.35V310.5H473.85V309.3H473.975V307.2H475.1V309.2H475.225V312.2H475.475V326.5H475.725V312.2H475.975V337.3H476.225V325.5H477.725V328H477.85V333.3H477.975V334H478.85V317.3H478.975V287.4H479.1V286.2H480.1V293.6H480.225V304.6H481.35V338.4H481.475V335.4H482.225V335.2H482.725V335.8H482.85V337.1H482.975V350.5H483.35V337.2H483.6V338.7H484.225V337.2H484.85V322.9H484.975V297.3H485.1V296.3H486.1V307.3H486.225V323.9H486.725V332.7H486.975V321.6H487.1V305.4H487.225V298H488.1V309H488.225V325.5H489.975V330.7H490.1V335.8H490.85V328.1H490.975V314.4H491.1V313.8H492.1V314.5H492.225V315.5H493.6V332H493.85V297.1H494.225V337H494.475V297.1H494.85V336.4H494.975V291.4H495.1V291.3H496.1V321.8H496.35V305.5H496.975V321H497.225V279.6H497.975V270.7H498.1V255.9H498.975V277H499.1V330H499.225V312.2H499.85V336H500.1V324.1H500.225V325.5H501.475V326.7H501.725V325.5H501.85V312.1H501.975V288H502.1V287.1H503.1V297.1H503.225V305.5H503.85V299.8H503.975V287.8H504.1V286.2H505.1V297.2H505.225V307.2H505.85V301.7H505.975V289.4H506.1V287.4H507.1V300H507.225V318.9H508.1V347.1H508.475V331.5H508.6V333.7H508.85V331.5H508.975V323.5H509.1V309.8H509.225V309.7H509.475V330.9H509.85V309.7H510.1V314H510.225V320.5H510.975V309.6H511.1V270.7H511.225V258.3H511.975V287.1H512.1V341.7H512.35V335.1H513.1V332H513.225V323.8H513.35V322.2H515.85V314H515.975V299.4H516.1V298.8H517.1V328.5H517.225V335.4H517.85V344.5H519.225V332H520.85V316.3H520.975V288.2H521.1V287.1H522.1V288.1H522.225V289.6H522.975V288.2H523.1V284.3H523.225V283.4H524.1V286.9H524.225V292.1H525.35V296.9H525.475V321.4H525.6V331.4H525.85V343.8H526.1V342.7H526.225V331.4H526.85V324.4H526.975V311.8H527.1V311.3H528.1V313.7H528.225V317.2H528.475V331.1H528.6V317.2H529.225V314H529.35V305.7H529.475V303.8H530.1V350.5H530.475V303.8H530.85V296.7H530.975V283.9H531.1V283.4H531.975V287.8H532.1V336.6H532.225V317.2H532.85V327.7H533.1V308.2H533.225V306.3H533.6V334.5H533.85V306.3H533.975V288H534.1V276.7H535.1V300.9H535.225V337.3H536.225V324.9H536.35V312.2H536.6V344.4H536.85V312.2H537.6V322.7H537.725V342.5H537.975V302.1H538.1V330.2H538.225V337.4H538.35V330.2H538.475V327H538.6V301.8H539.1V306.6H539.225V313.8H540.725V320.1H540.85V336.9H540.975V303H541.35V338.1H541.6V303H542.225V323.2H542.6V303H543.10 V358.00 Z" fill="#02AFCB"/>
<text x="294.40" y="359.75" font-size="5.30" text-anchor="end" font-weight="bold" fill="#1a1a1a" textLength="2.30" lengthAdjust="spacingAndGlyphs" stroke="#1a1a1a" stroke-width="0.18">0</text>
<text x="294.40" y="340.90" font-size="5.30" text-anchor="end" font-weight="bold" fill="#1a1a1a" textLength="4.60" lengthAdjust="spacingAndGlyphs" stroke="#1a1a1a" stroke-width="0.18">20</text>
<text x="294.40" y="322.05" font-size="5.30" text-anchor="end" font-weight="bold" fill="#1a1a1a" textLength="4.60" lengthAdjust="spacingAndGlyphs" stroke="#1a1a1a" stroke-width="0.18">40</text>
<text x="294.40" y="303.20" font-size="5.30" text-anchor="end" font-weight="bold" fill="#1a1a1a" textLength="4.60" lengthAdjust="spacingAndGlyphs" stroke="#1a1a1a" stroke-width="0.18">60</text>
<text x="294.40" y="284.35" font-size="5.30" text-anchor="end" font-weight="bold" fill="#1a1a1a" textLength="4.60" lengthAdjust="spacingAndGlyphs" stroke="#1a1a1a" stroke-width="0.18">80</text>
<text x="294.40" y="265.50" font-size="5.30" text-anchor="end" font-weight="bold" fill="#1a1a1a" textLength="6.90" lengthAdjust="spacingAndGlyphs" stroke="#1a1a1a" stroke-width="0.18">100</text>
<text x="294.40" y="246.65" font-size="5.30" text-anchor="end" font-weight="bold" fill="#1a1a1a" textLength="6.90" lengthAdjust="spacingAndGlyphs" stroke="#1a1a1a" stroke-width="0.18">120</text>
<text x="294.40" y="227.80" font-size="5.30" text-anchor="end" font-weight="bold" fill="#1a1a1a" textLength="6.90" lengthAdjust="spacingAndGlyphs" stroke="#1a1a1a" stroke-width="0.18">140</text>
<text x="294.40" y="208.95" font-size="5.30" text-anchor="end" font-weight="bold" fill="#1a1a1a" textLength="6.90" lengthAdjust="spacingAndGlyphs" stroke="#1a1a1a" stroke-width="0.18">160</text>
<path d="M298.70 358.00 h-2.0M298.70 339.15 h-2.0M298.70 320.30 h-2.0M298.70 301.45 h-2.0M298.70 282.60 h-2.0M298.70 263.75 h-2.0M298.70 244.90 h-2.0M298.70 226.05 h-2.0M298.70 207.20 h-2.0" stroke="#c8c8c8" stroke-width="0.6" fill="none"/>
<text x="301.05" y="361.70" font-size="5.00" text-anchor="end" font-weight="bold" fill="#1a1a1a" textLength="9.30" lengthAdjust="spacingAndGlyphs" transform="rotate(-90 301.05 361.70)" stroke="#1a1a1a" stroke-width="0.18">2001</text>
<text x="314.28" y="361.70" font-size="5.00" text-anchor="end" font-weight="bold" fill="#1a1a1a" textLength="9.30" lengthAdjust="spacingAndGlyphs" transform="rotate(-90 314.28 361.70)" stroke="#1a1a1a" stroke-width="0.18">2002</text>
<text x="327.52" y="361.70" font-size="5.00" text-anchor="end" font-weight="bold" fill="#1a1a1a" textLength="9.30" lengthAdjust="spacingAndGlyphs" transform="rotate(-90 327.52 361.70)" stroke="#1a1a1a" stroke-width="0.18">2003</text>
<text x="340.75" y="361.70" font-size="5.00" text-anchor="end" font-weight="bold" fill="#1a1a1a" textLength="9.30" lengthAdjust="spacingAndGlyphs" transform="rotate(-90 340.75 361.70)" stroke="#1a1a1a" stroke-width="0.18">2004</text>
<text x="353.98" y="361.70" font-size="5.00" text-anchor="end" font-weight="bold" fill="#1a1a1a" textLength="9.30" lengthAdjust="spacingAndGlyphs" transform="rotate(-90 353.98 361.70)" stroke="#1a1a1a" stroke-width="0.18">2005</text>
<text x="367.22" y="361.70" font-size="5.00" text-anchor="end" font-weight="bold" fill="#1a1a1a" textLength="9.30" lengthAdjust="spacingAndGlyphs" transform="rotate(-90 367.22 361.70)" stroke="#1a1a1a" stroke-width="0.18">2006</text>
<text x="380.45" y="361.70" font-size="5.00" text-anchor="end" font-weight="bold" fill="#1a1a1a" textLength="9.30" lengthAdjust="spacingAndGlyphs" transform="rotate(-90 380.45 361.70)" stroke="#1a1a1a" stroke-width="0.18">2007</text>
<text x="393.80" y="361.70" font-size="5.00" text-anchor="end" font-weight="bold" fill="#1a1a1a" textLength="9.30" lengthAdjust="spacingAndGlyphs" transform="rotate(-90 393.80 361.70)" stroke="#1a1a1a" stroke-width="0.18">2008</text>
<text x="407.15" y="361.70" font-size="5.00" text-anchor="end" font-weight="bold" fill="#1a1a1a" textLength="9.30" lengthAdjust="spacingAndGlyphs" transform="rotate(-90 407.15 361.70)" stroke="#1a1a1a" stroke-width="0.18">2009</text>
<text x="420.50" y="361.70" font-size="5.00" text-anchor="end" font-weight="bold" fill="#1a1a1a" textLength="9.30" lengthAdjust="spacingAndGlyphs" transform="rotate(-90 420.50 361.70)" stroke="#1a1a1a" stroke-width="0.18">2010</text>
<text x="433.85" y="361.70" font-size="5.00" text-anchor="end" font-weight="bold" fill="#1a1a1a" textLength="9.30" lengthAdjust="spacingAndGlyphs" transform="rotate(-90 433.85 361.70)" stroke="#1a1a1a" stroke-width="0.18">2011</text>
<text x="447.15" y="361.70" font-size="5.00" text-anchor="end" font-weight="bold" fill="#1a1a1a" textLength="9.30" lengthAdjust="spacingAndGlyphs" transform="rotate(-90 447.15 361.70)" stroke="#1a1a1a" stroke-width="0.18">2013</text>
<text x="460.45" y="361.70" font-size="5.00" text-anchor="end" font-weight="bold" fill="#1a1a1a" textLength="9.30" lengthAdjust="spacingAndGlyphs" transform="rotate(-90 460.45 361.70)" stroke="#1a1a1a" stroke-width="0.18">2014</text>
<text x="473.78" y="361.70" font-size="5.00" text-anchor="end" font-weight="bold" fill="#1a1a1a" textLength="9.30" lengthAdjust="spacingAndGlyphs" transform="rotate(-90 473.78 361.70)" stroke="#1a1a1a" stroke-width="0.18">2015</text>
<text x="487.12" y="361.70" font-size="5.00" text-anchor="end" font-weight="bold" fill="#1a1a1a" textLength="9.30" lengthAdjust="spacingAndGlyphs" transform="rotate(-90 487.12 361.70)" stroke="#1a1a1a" stroke-width="0.18">2016</text>
<text x="500.45" y="361.70" font-size="5.00" text-anchor="end" font-weight="bold" fill="#1a1a1a" textLength="9.30" lengthAdjust="spacingAndGlyphs" transform="rotate(-90 500.45 361.70)" stroke="#1a1a1a" stroke-width="0.18">2017</text>
<text x="513.78" y="361.70" font-size="5.00" text-anchor="end" font-weight="bold" fill="#1a1a1a" textLength="9.30" lengthAdjust="spacingAndGlyphs" transform="rotate(-90 513.78 361.70)" stroke="#1a1a1a" stroke-width="0.18">2018</text>
<text x="527.12" y="361.70" font-size="5.00" text-anchor="end" font-weight="bold" fill="#1a1a1a" textLength="9.30" lengthAdjust="spacingAndGlyphs" transform="rotate(-90 527.12 361.70)" stroke="#1a1a1a" stroke-width="0.18">2019</text>
<text x="540.45" y="361.70" font-size="5.00" text-anchor="end" font-weight="bold" fill="#1a1a1a" textLength="9.30" lengthAdjust="spacingAndGlyphs" transform="rotate(-90 540.45 361.70)" stroke="#1a1a1a" stroke-width="0.18">2020</text>
<path d="M299.40 358.00 v2M312.63 358.00 v2M325.87 358.00 v2M339.10 358.00 v2M352.33 358.00 v2M365.57 358.00 v2M378.80 358.00 v2M392.15 358.00 v2M405.50 358.00 v2M418.85 358.00 v2M432.20 358.00 v2M445.50 358.00 v2M458.80 358.00 v2M472.13 358.00 v2M485.47 358.00 v2M498.80 358.00 v2M512.13 358.00 v2M525.47 358.00 v2M538.80 358.00 v2" stroke="#c8c8c8" stroke-width="0.5" fill="none"/>
<text x="285.50" y="291.00" font-size="5.00" text-anchor="middle" font-weight="bold" fill="#1a1a1a" textLength="32.50" lengthAdjust="spacingAndGlyphs" transform="rotate(-90 285.50 291.00)" stroke="#1a1a1a" stroke-width="0.18">Rainfall (mm)</text>
<text x="417.50" y="379.10" font-size="5.20" text-anchor="middle" font-weight="bold" fill="#1a1a1a" textLength="10.60" lengthAdjust="spacingAndGlyphs" stroke="#1a1a1a" stroke-width="0.18">Years</text>
<text x="422.50" y="215.40" font-size="9.20" text-anchor="middle" font-weight="bold" fill="#1a1a1a" textLength="201.60" lengthAdjust="spacingAndGlyphs" stroke="#1a1a1a" stroke-width="0.12">Daily Time Series for Station Genting Sempah (3317004)</text>
<text x="134.5" y="200.0" font-size="10.2" text-anchor="middle" fill="#1a1a1a" font-weight="normal">(<tspan font-weight="bold" font-size="11.8">a</tspan>)</text>
<text x="408.6" y="200.0" font-size="10.2" text-anchor="middle" fill="#1a1a1a" font-weight="normal">(<tspan font-weight="bold" font-size="11.8">b</tspan>)</text>
<text x="134.7" y="394.2" font-size="10.2" text-anchor="middle" fill="#1a1a1a" font-weight="normal">(<tspan font-weight="bold" font-size="11.8">c</tspan>)</text>
<text x="408.6" y="394.2" font-size="10.2" text-anchor="middle" fill="#1a1a1a" font-weight="normal">(<tspan font-weight="bold" font-size="11.8">d</tspan>)</text>
</svg></body></html>
